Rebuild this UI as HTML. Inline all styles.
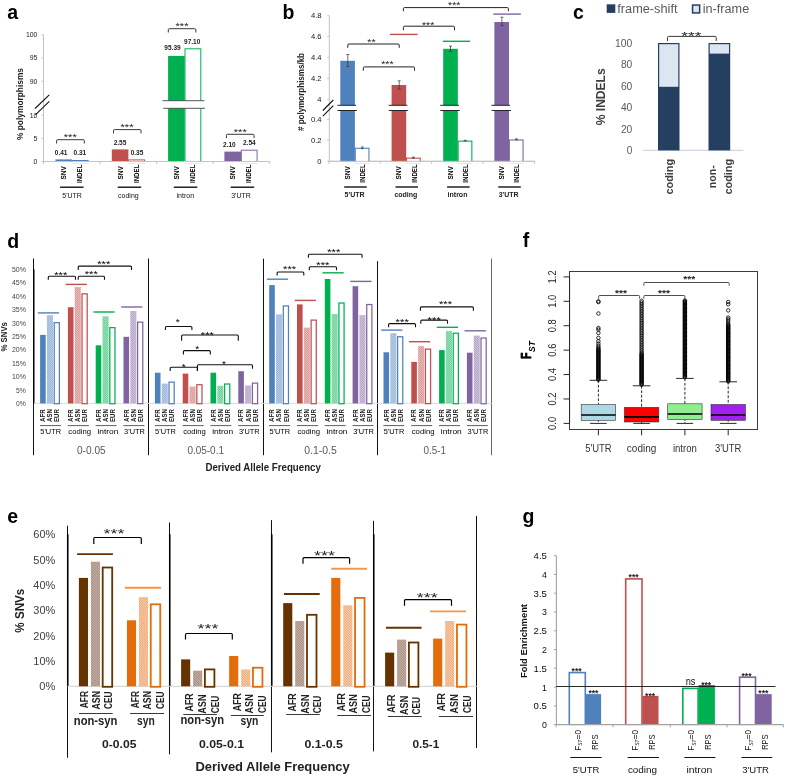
<!DOCTYPE html>
<html><head><meta charset="utf-8"><title>Figure</title>
<style>html,body{margin:0;padding:0;background:#fff}svg{display:block}</style></head>
<body>
<svg width="785" height="776" viewBox="0 0 785 776" font-family='"Liberation Sans", sans-serif'>
<defs>
<pattern id="hb" width="1.63" height="1.63" patternUnits="userSpaceOnUse" patternTransform="rotate(-45)"><rect width="1.63" height="1.63" fill="#c5d5e9"/><rect width="0.8" height="1.63" fill="#8eaed5"/></pattern>
<pattern id="hr" width="1.63" height="1.63" patternUnits="userSpaceOnUse" patternTransform="rotate(-45)"><rect width="1.63" height="1.63" fill="#eac5c4"/><rect width="0.8" height="1.63" fill="#d78f8d"/></pattern>
<pattern id="hg" width="1.63" height="1.63" patternUnits="userSpaceOnUse" patternTransform="rotate(-45)"><rect width="1.63" height="1.63" fill="#abe5c5"/><rect width="0.8" height="1.63" fill="#5ccc8f"/></pattern>
<pattern id="hp" width="1.63" height="1.63" patternUnits="userSpaceOnUse" patternTransform="rotate(-45)"><rect width="1.63" height="1.63" fill="#d5cce0"/><rect width="0.8" height="1.63" fill="#ae9cc3"/></pattern>
<pattern id="hbr" width="1.77" height="1.77" patternUnits="userSpaceOnUse" patternTransform="rotate(-45)"><rect width="1.77" height="1.77" fill="#cbb8ad"/><rect width="0.88" height="1.77" fill="#a3877a"/></pattern>
<pattern id="hor" width="1.77" height="1.77" patternUnits="userSpaceOnUse" patternTransform="rotate(-45)"><rect width="1.77" height="1.77" fill="#f9d6ba"/><rect width="0.88" height="1.77" fill="#efa168"/></pattern>
</defs>
<rect width="785" height="776" fill="#fff"/>
<text x="7.30" y="19.20" font-size="19.5" text-anchor="start" fill="#000" font-weight="bold">a</text>
<text x="282.60" y="19.20" font-size="19.5" text-anchor="start" fill="#000" font-weight="bold">b</text>
<text x="573.00" y="18.70" font-size="19.5" text-anchor="start" fill="#000" font-weight="bold">c</text>
<text x="7.30" y="247.60" font-size="19.5" text-anchor="start" fill="#000" font-weight="bold">d</text>
<text x="522.80" y="247.00" font-size="19.5" text-anchor="start" fill="#000" font-weight="bold">f</text>
<text x="7.30" y="522.60" font-size="19.5" text-anchor="start" fill="#000" font-weight="bold">e</text>
<text x="522.60" y="522.80" font-size="19.5" text-anchor="start" fill="#000" font-weight="bold">g</text>
<line x1="43.50" y1="34.60" x2="43.50" y2="161.50" stroke="#c4c4c4" stroke-width="1" />
<line x1="43.50" y1="161.50" x2="270.00" y2="161.50" stroke="#c4c4c4" stroke-width="1" />
<line x1="41.50" y1="34.80" x2="43.50" y2="34.80" stroke="#c4c4c4" stroke-width="1" />
<text x="37.40" y="37.28" font-size="6.9" text-anchor="end" fill="#222">100</text>
<line x1="41.50" y1="58.00" x2="43.50" y2="58.00" stroke="#c4c4c4" stroke-width="1" />
<text x="37.40" y="60.48" font-size="6.9" text-anchor="end" fill="#222">95</text>
<line x1="41.50" y1="81.20" x2="43.50" y2="81.20" stroke="#c4c4c4" stroke-width="1" />
<text x="37.40" y="83.68" font-size="6.9" text-anchor="end" fill="#222">90</text>
<line x1="41.50" y1="115.20" x2="43.50" y2="115.20" stroke="#c4c4c4" stroke-width="1" />
<text x="37.40" y="117.68" font-size="6.9" text-anchor="end" fill="#222">10</text>
<line x1="41.50" y1="138.40" x2="43.50" y2="138.40" stroke="#c4c4c4" stroke-width="1" />
<text x="37.40" y="140.88" font-size="6.9" text-anchor="end" fill="#222">5</text>
<line x1="41.50" y1="161.50" x2="43.50" y2="161.50" stroke="#c4c4c4" stroke-width="1" />
<text x="37.40" y="163.98" font-size="6.9" text-anchor="end" fill="#222">0</text>
<line x1="43.60" y1="161.50" x2="43.60" y2="164.00" stroke="#c4c4c4" stroke-width="1" />
<line x1="100.20" y1="161.50" x2="100.20" y2="164.00" stroke="#c4c4c4" stroke-width="1" />
<line x1="156.70" y1="161.50" x2="156.70" y2="164.00" stroke="#c4c4c4" stroke-width="1" />
<line x1="213.20" y1="161.50" x2="213.20" y2="164.00" stroke="#c4c4c4" stroke-width="1" />
<line x1="269.80" y1="161.50" x2="269.80" y2="164.00" stroke="#c4c4c4" stroke-width="1" />
<line x1="35.00" y1="108.50" x2="49.30" y2="94.80" stroke="#111" stroke-width="1.1" />
<line x1="35.40" y1="114.80" x2="49.30" y2="101.30" stroke="#111" stroke-width="1.1" />
<rect x="37" y="103" width="4" height="0" fill="#fff"/>
<text x="23.44" y="104.00" font-size="8.8" text-anchor="middle" fill="#222" font-weight="bold" transform="rotate(-90 23.44 104.00)" textLength="72.0" lengthAdjust="spacingAndGlyphs">% polymorphisms</text>
<rect x="55.50" y="159.40" width="16.60" height="2.10" fill="#4f81bd"/>
<rect x="72.40" y="160.50" width="15.80" height="2.50" fill="#fff" stroke="#4f81bd" stroke-width="1.0"/>
<text x="61.10" y="155.24" font-size="6.5" text-anchor="middle" fill="#222" font-weight="bold">0.41</text>
<text x="79.90" y="155.34" font-size="6.5" text-anchor="middle" fill="#222" font-weight="bold">0.31</text>
<path d="M56.60 143.50 V140.70 Q56.60 139.70 57.60 139.70 H83.30 Q84.30 139.70 84.30 140.70 V143.50" fill="none" stroke="#222" stroke-width="0.9"/>
<text x="70.30" y="140.44" font-size="8.5" text-anchor="middle" fill="#222" textLength="13.2" lengthAdjust="spacingAndGlyphs">***</text>
<text x="66.41" y="166.10" font-size="6.7" text-anchor="end" fill="#000" font-weight="bold" transform="rotate(-90 66.41 166.10)" textLength="13.4" lengthAdjust="spacingAndGlyphs">SNV</text>
<text x="82.41" y="164.60" font-size="6.7" text-anchor="end" fill="#000" font-weight="bold" transform="rotate(-90 82.41 164.60)" textLength="18.4" lengthAdjust="spacingAndGlyphs">INDEL</text>
<line x1="60.10" y1="187.20" x2="83.60" y2="187.20" stroke="#000" stroke-width="1.3" />
<text x="72.10" y="197.71" font-size="7.0" text-anchor="middle" fill="#111">5'UTR</text>
<rect x="111.80" y="149.40" width="16.60" height="12.10" fill="#c0504d"/>
<rect x="128.70" y="159.90" width="15.80" height="3.10" fill="#fff" stroke="#c0504d" stroke-width="1.0"/>
<text x="120.00" y="145.24" font-size="6.5" text-anchor="middle" fill="#222" font-weight="bold">2.55</text>
<text x="137.00" y="155.24" font-size="6.5" text-anchor="middle" fill="#222" font-weight="bold">0.35</text>
<path d="M113.50 133.40 V130.60 Q113.50 129.60 114.50 129.60 H140.00 Q141.00 129.60 141.00 130.60 V133.40" fill="none" stroke="#222" stroke-width="0.9"/>
<text x="127.00" y="130.25" font-size="8.5" text-anchor="middle" fill="#222" textLength="13.2" lengthAdjust="spacingAndGlyphs">***</text>
<text x="122.71" y="166.10" font-size="6.7" text-anchor="end" fill="#000" font-weight="bold" transform="rotate(-90 122.71 166.10)" textLength="13.4" lengthAdjust="spacingAndGlyphs">SNV</text>
<text x="138.71" y="164.60" font-size="6.7" text-anchor="end" fill="#000" font-weight="bold" transform="rotate(-90 138.71 164.60)" textLength="18.4" lengthAdjust="spacingAndGlyphs">INDEL</text>
<line x1="117.70" y1="187.20" x2="141.20" y2="187.20" stroke="#000" stroke-width="1.3" />
<text x="128.40" y="197.71" font-size="7.0" text-anchor="middle" fill="#111">coding</text>
<rect x="168.10" y="55.90" width="16.60" height="105.60" fill="#00b050"/>
<rect x="185.00" y="48.80" width="15.80" height="114.20" fill="#fff" stroke="#00b050" stroke-width="1.0"/>
<text x="172.50" y="50.24" font-size="6.5" text-anchor="middle" fill="#222" font-weight="bold">95.39</text>
<text x="192.20" y="43.54" font-size="6.5" text-anchor="middle" fill="#222" font-weight="bold">97.10</text>
<path d="M168.30 32.50 V29.70 Q168.30 28.70 169.30 28.70 H194.80 Q195.80 28.70 195.80 29.70 V32.50" fill="none" stroke="#222" stroke-width="0.9"/>
<text x="182.00" y="29.34" font-size="8.5" text-anchor="middle" fill="#222" textLength="13.2" lengthAdjust="spacingAndGlyphs">***</text>
<text x="179.01" y="166.10" font-size="6.7" text-anchor="end" fill="#000" font-weight="bold" transform="rotate(-90 179.01 166.10)" textLength="13.4" lengthAdjust="spacingAndGlyphs">SNV</text>
<text x="195.01" y="164.60" font-size="6.7" text-anchor="end" fill="#000" font-weight="bold" transform="rotate(-90 195.01 164.60)" textLength="18.4" lengthAdjust="spacingAndGlyphs">INDEL</text>
<line x1="173.80" y1="187.20" x2="197.30" y2="187.20" stroke="#000" stroke-width="1.3" />
<text x="185.30" y="197.71" font-size="7.0" text-anchor="middle" fill="#111">intron</text>
<rect x="224.40" y="151.60" width="16.60" height="9.90" fill="#8064a2"/>
<rect x="241.30" y="150.20" width="15.80" height="12.80" fill="#fff" stroke="#8064a2" stroke-width="1.0"/>
<text x="229.40" y="147.44" font-size="6.5" text-anchor="middle" fill="#222" font-weight="bold">2.10</text>
<text x="249.30" y="145.14" font-size="6.5" text-anchor="middle" fill="#222" font-weight="bold">2.54</text>
<path d="M226.40 138.10 V135.30 Q226.40 134.30 227.40 134.30 H253.10 Q254.10 134.30 254.10 135.30 V138.10" fill="none" stroke="#222" stroke-width="0.9"/>
<text x="240.30" y="134.94" font-size="8.5" text-anchor="middle" fill="#222" textLength="13.2" lengthAdjust="spacingAndGlyphs">***</text>
<text x="235.31" y="166.10" font-size="6.7" text-anchor="end" fill="#000" font-weight="bold" transform="rotate(-90 235.31 166.10)" textLength="13.4" lengthAdjust="spacingAndGlyphs">SNV</text>
<text x="251.31" y="164.60" font-size="6.7" text-anchor="end" fill="#000" font-weight="bold" transform="rotate(-90 251.31 164.60)" textLength="18.4" lengthAdjust="spacingAndGlyphs">INDEL</text>
<line x1="230.70" y1="187.20" x2="254.20" y2="187.20" stroke="#000" stroke-width="1.3" />
<text x="241.00" y="197.71" font-size="7.0" text-anchor="middle" fill="#111">3'UTR</text>
<rect x="44.20" y="162.00" width="224.80" height="1.70" fill="#fff"/>
<line x1="43.50" y1="161.50" x2="270.00" y2="161.50" stroke="#c4c4c4" stroke-width="1" />
<line x1="100.20" y1="161.50" x2="100.20" y2="164.00" stroke="#c4c4c4" stroke-width="1" />
<line x1="156.70" y1="161.50" x2="156.70" y2="164.00" stroke="#c4c4c4" stroke-width="1" />
<line x1="213.20" y1="161.50" x2="213.20" y2="164.00" stroke="#c4c4c4" stroke-width="1" />
<rect x="162.50" y="100.70" width="42.30" height="7.60" fill="#fff"/>
<line x1="162.50" y1="100.70" x2="204.40" y2="100.70" stroke="#444" stroke-width="0.9" />
<line x1="163.20" y1="108.30" x2="205.00" y2="108.30" stroke="#444" stroke-width="0.9" />
<line x1="329.30" y1="15.70" x2="329.30" y2="161.30" stroke="#c4c4c4" stroke-width="1" />
<line x1="329.30" y1="161.30" x2="534.80" y2="161.30" stroke="#c4c4c4" stroke-width="1" />
<line x1="327.30" y1="15.70" x2="329.30" y2="15.70" stroke="#c4c4c4" stroke-width="1" />
<text x="321.60" y="18.44" font-size="7.6" text-anchor="end" fill="#151515">4.8</text>
<line x1="327.30" y1="36.50" x2="329.30" y2="36.50" stroke="#c4c4c4" stroke-width="1" />
<text x="321.60" y="39.24" font-size="7.6" text-anchor="end" fill="#151515">4.6</text>
<line x1="327.30" y1="57.40" x2="329.30" y2="57.40" stroke="#c4c4c4" stroke-width="1" />
<text x="321.60" y="60.14" font-size="7.6" text-anchor="end" fill="#151515">4.4</text>
<line x1="327.30" y1="78.30" x2="329.30" y2="78.30" stroke="#c4c4c4" stroke-width="1" />
<text x="321.60" y="81.04" font-size="7.6" text-anchor="end" fill="#151515">4.2</text>
<line x1="327.30" y1="99.30" x2="329.30" y2="99.30" stroke="#c4c4c4" stroke-width="1" />
<text x="321.60" y="102.04" font-size="7.6" text-anchor="end" fill="#151515">4</text>
<line x1="327.30" y1="119.60" x2="329.30" y2="119.60" stroke="#c4c4c4" stroke-width="1" />
<text x="321.60" y="122.34" font-size="7.6" text-anchor="end" fill="#151515">0.4</text>
<line x1="327.30" y1="140.40" x2="329.30" y2="140.40" stroke="#c4c4c4" stroke-width="1" />
<text x="321.60" y="143.14" font-size="7.6" text-anchor="end" fill="#151515">0.2</text>
<line x1="327.30" y1="161.30" x2="329.30" y2="161.30" stroke="#c4c4c4" stroke-width="1" />
<text x="321.60" y="164.04" font-size="7.6" text-anchor="end" fill="#151515">0</text>
<line x1="328.90" y1="161.30" x2="328.90" y2="163.80" stroke="#c4c4c4" stroke-width="1" />
<line x1="380.40" y1="161.30" x2="380.40" y2="163.80" stroke="#c4c4c4" stroke-width="1" />
<line x1="431.60" y1="161.30" x2="431.60" y2="163.80" stroke="#c4c4c4" stroke-width="1" />
<line x1="483.10" y1="161.30" x2="483.10" y2="163.80" stroke="#c4c4c4" stroke-width="1" />
<line x1="534.60" y1="161.30" x2="534.60" y2="163.80" stroke="#c4c4c4" stroke-width="1" />
<line x1="322.80" y1="110.50" x2="333.30" y2="100.00" stroke="#111" stroke-width="1.1" />
<line x1="322.80" y1="116.20" x2="333.30" y2="105.70" stroke="#111" stroke-width="1.1" />
<text x="303.94" y="92.00" font-size="8.8" text-anchor="middle" fill="#222" font-weight="bold" transform="rotate(-90 303.94 92.00)" textLength="78.0" lengthAdjust="spacingAndGlyphs"># polymorphisms/kb</text>
<rect x="340.30" y="60.80" width="14.60" height="100.50" fill="#4f81bd"/>
<rect x="355.25" y="148.25" width="13.70" height="14.55" fill="#fff" stroke="#4f81bd" stroke-width="1.1"/>
<line x1="347.80" y1="54.50" x2="347.80" y2="66.50" stroke="#333" stroke-width="0.7" />
<line x1="346.30" y1="54.50" x2="349.30" y2="54.50" stroke="#333" stroke-width="0.7" />
<line x1="346.30" y1="66.50" x2="349.30" y2="66.50" stroke="#333" stroke-width="0.7" />
<line x1="362.30" y1="146.90" x2="362.30" y2="148.70" stroke="#333" stroke-width="0.7" />
<line x1="360.90" y1="146.90" x2="363.70" y2="146.90" stroke="#333" stroke-width="0.6" />
<line x1="360.90" y1="148.70" x2="363.70" y2="148.70" stroke="#333" stroke-width="0.6" />
<rect x="337.30" y="105.30" width="20.60" height="5.20" fill="#fff"/>
<line x1="337.30" y1="105.30" x2="356.10" y2="105.30" stroke="#111" stroke-width="0.9" />
<line x1="337.50" y1="110.50" x2="356.90" y2="110.50" stroke="#111" stroke-width="0.9" />
<text x="350.11" y="166.10" font-size="6.7" text-anchor="end" fill="#000" font-weight="bold" transform="rotate(-90 350.11 166.10)" textLength="13.4" lengthAdjust="spacingAndGlyphs">SNV</text>
<text x="365.21" y="164.30" font-size="6.7" text-anchor="end" fill="#000" font-weight="bold" transform="rotate(-90 365.21 164.30)" textLength="18.4" lengthAdjust="spacingAndGlyphs">INDEL</text>
<line x1="344.20" y1="187.00" x2="366.70" y2="187.00" stroke="#000" stroke-width="1.3" />
<text x="354.60" y="196.91" font-size="7.0" text-anchor="middle" fill="#222" font-weight="bold">5'UTR</text>
<rect x="391.60" y="85.00" width="14.60" height="76.30" fill="#c0504d"/>
<rect x="406.55" y="158.15" width="13.70" height="4.65" fill="#fff" stroke="#c0504d" stroke-width="1.1"/>
<line x1="399.20" y1="80.80" x2="399.20" y2="88.90" stroke="#333" stroke-width="0.7" />
<line x1="397.70" y1="80.80" x2="400.70" y2="80.80" stroke="#333" stroke-width="0.7" />
<line x1="397.70" y1="88.90" x2="400.70" y2="88.90" stroke="#333" stroke-width="0.7" />
<line x1="413.40" y1="157.00" x2="413.40" y2="158.20" stroke="#333" stroke-width="0.7" />
<line x1="412.00" y1="157.00" x2="414.80" y2="157.00" stroke="#333" stroke-width="0.6" />
<line x1="412.00" y1="158.20" x2="414.80" y2="158.20" stroke="#333" stroke-width="0.6" />
<rect x="388.60" y="105.30" width="20.60" height="5.20" fill="#fff"/>
<line x1="388.60" y1="105.30" x2="407.40" y2="105.30" stroke="#111" stroke-width="0.9" />
<line x1="388.80" y1="110.50" x2="408.20" y2="110.50" stroke="#111" stroke-width="0.9" />
<text x="401.41" y="166.10" font-size="6.7" text-anchor="end" fill="#000" font-weight="bold" transform="rotate(-90 401.41 166.10)" textLength="13.4" lengthAdjust="spacingAndGlyphs">SNV</text>
<text x="416.51" y="164.30" font-size="6.7" text-anchor="end" fill="#000" font-weight="bold" transform="rotate(-90 416.51 164.30)" textLength="18.4" lengthAdjust="spacingAndGlyphs">INDEL</text>
<line x1="395.50" y1="187.00" x2="418.00" y2="187.00" stroke="#000" stroke-width="1.3" />
<text x="405.90" y="196.91" font-size="7.0" text-anchor="middle" fill="#222" font-weight="bold">coding</text>
<rect x="443.20" y="48.80" width="14.60" height="112.50" fill="#00b050"/>
<rect x="458.15" y="141.15" width="13.70" height="21.65" fill="#fff" stroke="#00b050" stroke-width="1.1"/>
<line x1="450.50" y1="46.20" x2="450.50" y2="51.20" stroke="#333" stroke-width="0.7" />
<line x1="449.00" y1="46.20" x2="452.00" y2="46.20" stroke="#333" stroke-width="0.7" />
<line x1="449.00" y1="51.20" x2="452.00" y2="51.20" stroke="#333" stroke-width="0.7" />
<line x1="465.20" y1="140.20" x2="465.20" y2="141.00" stroke="#333" stroke-width="0.7" />
<line x1="463.80" y1="140.20" x2="466.60" y2="140.20" stroke="#333" stroke-width="0.6" />
<line x1="463.80" y1="141.00" x2="466.60" y2="141.00" stroke="#333" stroke-width="0.6" />
<rect x="440.20" y="105.30" width="20.60" height="5.20" fill="#fff"/>
<line x1="440.20" y1="105.30" x2="459.00" y2="105.30" stroke="#111" stroke-width="0.9" />
<line x1="440.40" y1="110.50" x2="459.80" y2="110.50" stroke="#111" stroke-width="0.9" />
<text x="453.01" y="166.10" font-size="6.7" text-anchor="end" fill="#000" font-weight="bold" transform="rotate(-90 453.01 166.10)" textLength="13.4" lengthAdjust="spacingAndGlyphs">SNV</text>
<text x="468.11" y="164.30" font-size="6.7" text-anchor="end" fill="#000" font-weight="bold" transform="rotate(-90 468.11 164.30)" textLength="18.4" lengthAdjust="spacingAndGlyphs">INDEL</text>
<line x1="447.10" y1="187.00" x2="469.60" y2="187.00" stroke="#000" stroke-width="1.3" />
<text x="457.50" y="196.91" font-size="7.0" text-anchor="middle" fill="#222" font-weight="bold">intron</text>
<rect x="494.40" y="22.00" width="14.60" height="139.30" fill="#8064a2"/>
<rect x="509.35" y="139.95" width="13.70" height="22.85" fill="#fff" stroke="#8064a2" stroke-width="1.1"/>
<line x1="501.90" y1="17.20" x2="501.90" y2="25.60" stroke="#333" stroke-width="0.7" />
<line x1="500.40" y1="17.20" x2="503.40" y2="17.20" stroke="#333" stroke-width="0.7" />
<line x1="500.40" y1="25.60" x2="503.40" y2="25.60" stroke="#333" stroke-width="0.7" />
<line x1="516.40" y1="138.80" x2="516.40" y2="140.00" stroke="#333" stroke-width="0.7" />
<line x1="515.00" y1="138.80" x2="517.80" y2="138.80" stroke="#333" stroke-width="0.6" />
<line x1="515.00" y1="140.00" x2="517.80" y2="140.00" stroke="#333" stroke-width="0.6" />
<rect x="491.40" y="105.30" width="20.60" height="5.20" fill="#fff"/>
<line x1="491.40" y1="105.30" x2="510.20" y2="105.30" stroke="#111" stroke-width="0.9" />
<line x1="491.60" y1="110.50" x2="511.00" y2="110.50" stroke="#111" stroke-width="0.9" />
<text x="504.21" y="166.10" font-size="6.7" text-anchor="end" fill="#000" font-weight="bold" transform="rotate(-90 504.21 166.10)" textLength="13.4" lengthAdjust="spacingAndGlyphs">SNV</text>
<text x="519.31" y="164.30" font-size="6.7" text-anchor="end" fill="#000" font-weight="bold" transform="rotate(-90 519.31 164.30)" textLength="18.4" lengthAdjust="spacingAndGlyphs">INDEL</text>
<line x1="498.30" y1="187.00" x2="520.80" y2="187.00" stroke="#000" stroke-width="1.3" />
<text x="508.70" y="196.91" font-size="7.0" text-anchor="middle" fill="#222" font-weight="bold">3'UTR</text>
<rect x="330.00" y="161.80" width="204.00" height="1.70" fill="#fff"/>
<line x1="329.30" y1="161.30" x2="534.80" y2="161.30" stroke="#c4c4c4" stroke-width="1" />
<line x1="380.40" y1="161.30" x2="380.40" y2="163.80" stroke="#c4c4c4" stroke-width="1" />
<line x1="431.60" y1="161.30" x2="431.60" y2="163.80" stroke="#c4c4c4" stroke-width="1" />
<line x1="483.10" y1="161.30" x2="483.10" y2="163.80" stroke="#c4c4c4" stroke-width="1" />
<line x1="390.00" y1="34.40" x2="417.60" y2="34.40" stroke="#c0504d" stroke-width="1.4" />
<line x1="442.90" y1="41.30" x2="470.20" y2="41.30" stroke="#00b050" stroke-width="1.4" />
<line x1="493.30" y1="14.10" x2="520.80" y2="14.10" stroke="#8064a2" stroke-width="1.4" />
<path d="M347.80 47.80 V45.00 Q347.80 44.00 348.80 44.00 H398.20 Q399.20 44.00 399.20 45.00 V47.80" fill="none" stroke="#222" stroke-width="1.0"/>
<text x="371.50" y="45.34" font-size="8.5" text-anchor="middle" fill="#222" textLength="8.3" lengthAdjust="spacingAndGlyphs">**</text>
<path d="M363.30 70.70 V67.90 Q363.30 66.90 364.30 66.90 H413.50 Q414.50 66.90 414.50 67.90 V70.70" fill="none" stroke="#222" stroke-width="1.0"/>
<text x="387.40" y="66.75" font-size="8.5" text-anchor="middle" fill="#222" textLength="12.5" lengthAdjust="spacingAndGlyphs">***</text>
<path d="M403.40 30.20 V27.20 Q403.40 26.20 404.40 26.20 H453.50 Q454.50 26.20 454.50 27.20 V30.20" fill="none" stroke="#222" stroke-width="1.0"/>
<text x="428.20" y="28.14" font-size="8.5" text-anchor="middle" fill="#222" textLength="12.5" lengthAdjust="spacingAndGlyphs">***</text>
<path d="M403.40 11.20 V8.60 Q403.40 7.60 404.40 7.60 H507.40 Q508.40 7.60 508.40 8.60 V11.20" fill="none" stroke="#222" stroke-width="1.0"/>
<text x="454.30" y="8.04" font-size="8.5" text-anchor="middle" fill="#222" textLength="12.5" lengthAdjust="spacingAndGlyphs">***</text>
<rect x="606.70" y="4.30" width="8.60" height="8.60" fill="#243f60"/>
<text x="617.30" y="12.60" font-size="12" text-anchor="start" fill="#595959" textLength="60.2" lengthAdjust="spacingAndGlyphs">frame-shift</text>
<rect x="692.55" y="5.05" width="7.10" height="7.85" fill="#dce6f2" stroke="#243f60" stroke-width="1.5"/>
<text x="702.70" y="12.60" font-size="12" text-anchor="start" fill="#595959" textLength="46.5" lengthAdjust="spacingAndGlyphs">in-frame</text>
<line x1="643.10" y1="150.40" x2="743.40" y2="150.40" stroke="#d3d8e6" stroke-width="1.2" />
<text x="632.30" y="46.60" font-size="10" text-anchor="end" fill="#595959" textLength="17.2" lengthAdjust="spacingAndGlyphs">100</text>
<text x="632.30" y="68.10" font-size="10" text-anchor="end" fill="#595959" textLength="11.4" lengthAdjust="spacingAndGlyphs">80</text>
<text x="632.30" y="89.60" font-size="10" text-anchor="end" fill="#595959" textLength="11.4" lengthAdjust="spacingAndGlyphs">60</text>
<text x="632.30" y="111.10" font-size="10" text-anchor="end" fill="#595959" textLength="11.4" lengthAdjust="spacingAndGlyphs">40</text>
<text x="632.30" y="132.50" font-size="10" text-anchor="end" fill="#595959" textLength="11.4" lengthAdjust="spacingAndGlyphs">20</text>
<text x="632.30" y="154.00" font-size="10" text-anchor="end" fill="#595959">0</text>
<text x="605.35" y="96.80" font-size="12.5" text-anchor="middle" fill="#404040" font-weight="bold" transform="rotate(-90 605.35 96.80)" textLength="57.0" lengthAdjust="spacingAndGlyphs">% INDELs</text>
<rect x="658.00" y="43.00" width="21.50" height="107.40" fill="#243f60"/>
<rect x="659.20" y="44.20" width="19.10" height="42.60" fill="#dce6f2"/>
<rect x="708.50" y="43.00" width="21.70" height="107.40" fill="#243f60"/>
<rect x="709.70" y="44.20" width="19.30" height="9.40" fill="#dce6f2"/>
<path d="M667.50 41.00 V37.40 Q667.50 36.40 668.50 36.40 H715.20 Q716.20 36.40 716.20 37.40 V41.00" fill="none" stroke="#222" stroke-width="0.9"/>
<text x="691.30" y="39.87" font-size="11" text-anchor="middle" fill="#222" textLength="20.0" lengthAdjust="spacingAndGlyphs">***</text>
<text x="673.40" y="158.80" font-size="11.5" text-anchor="end" fill="#404040" font-weight="bold" transform="rotate(-90 673.40 158.80)" textLength="35.8" lengthAdjust="spacingAndGlyphs">coding</text>
<text x="715.90" y="165.30" font-size="11.5" text-anchor="end" fill="#404040" font-weight="bold" transform="rotate(-90 715.90 165.30)" textLength="23.0" lengthAdjust="spacingAndGlyphs">non-</text>
<text x="732.21" y="158.80" font-size="11.5" text-anchor="end" fill="#404040" font-weight="bold" transform="rotate(-90 732.21 158.80)" textLength="35.8" lengthAdjust="spacingAndGlyphs">coding</text>
<line x1="33.50" y1="258.50" x2="33.50" y2="455.20" stroke="#111" stroke-width="1.0" />
<line x1="148.50" y1="258.50" x2="148.50" y2="455.20" stroke="#111" stroke-width="1.0" />
<line x1="263.50" y1="258.60" x2="263.50" y2="455.20" stroke="#111" stroke-width="1.0" />
<line x1="377.50" y1="261.20" x2="377.50" y2="455.20" stroke="#111" stroke-width="1.0" />
<line x1="491.50" y1="258.50" x2="491.50" y2="455.20" stroke="#666" stroke-width="1.0" />
<line x1="33.75" y1="269.30" x2="33.75" y2="403.40" stroke="#000" stroke-width="1.5" />
<line x1="34.00" y1="403.40" x2="491.70" y2="403.40" stroke="#d9dbe6" stroke-width="1.0" />
<text x="25.90" y="406.06" font-size="7.4" text-anchor="end" fill="#444" textLength="9.8" lengthAdjust="spacingAndGlyphs">0%</text>
<text x="25.90" y="392.66" font-size="7.4" text-anchor="end" fill="#444" textLength="9.8" lengthAdjust="spacingAndGlyphs">5%</text>
<text x="25.90" y="379.26" font-size="7.4" text-anchor="end" fill="#444" textLength="14.0" lengthAdjust="spacingAndGlyphs">10%</text>
<text x="25.90" y="365.86" font-size="7.4" text-anchor="end" fill="#444" textLength="14.0" lengthAdjust="spacingAndGlyphs">15%</text>
<text x="25.90" y="352.46" font-size="7.4" text-anchor="end" fill="#444" textLength="14.0" lengthAdjust="spacingAndGlyphs">20%</text>
<text x="25.90" y="339.06" font-size="7.4" text-anchor="end" fill="#444" textLength="14.0" lengthAdjust="spacingAndGlyphs">25%</text>
<text x="25.90" y="325.66" font-size="7.4" text-anchor="end" fill="#444" textLength="14.0" lengthAdjust="spacingAndGlyphs">30%</text>
<text x="25.90" y="312.26" font-size="7.4" text-anchor="end" fill="#444" textLength="14.0" lengthAdjust="spacingAndGlyphs">35%</text>
<text x="25.90" y="298.86" font-size="7.4" text-anchor="end" fill="#444" textLength="14.0" lengthAdjust="spacingAndGlyphs">40%</text>
<text x="25.90" y="285.46" font-size="7.4" text-anchor="end" fill="#444" textLength="14.0" lengthAdjust="spacingAndGlyphs">45%</text>
<text x="25.90" y="272.06" font-size="7.4" text-anchor="end" fill="#444" textLength="14.0" lengthAdjust="spacingAndGlyphs">50%</text>
<text x="7.24" y="336.80" font-size="8.8" text-anchor="middle" fill="#222" font-weight="bold" transform="rotate(-90 7.24 336.80)" textLength="29.5" lengthAdjust="spacingAndGlyphs">% SNVs</text>
<rect x="40.10" y="334.90" width="5.60" height="68.50" fill="#4f81bd"/>
<rect x="46.90" y="315.20" width="6.10" height="88.20" fill="url(#hb)"/>
<rect x="54.23" y="322.73" width="5.15" height="80.97" fill="#fff" stroke="#4f81bd" stroke-width="1.25"/>
<line x1="37.80" y1="312.90" x2="59.00" y2="312.90" stroke="#4f81bd" stroke-width="1.4" />
<text x="45.27" y="409.20" font-size="6.3" text-anchor="end" fill="#222" font-weight="bold" transform="rotate(-90 45.27 409.20)" textLength="12.7" lengthAdjust="spacingAndGlyphs">AFR</text>
<text x="52.37" y="409.20" font-size="6.3" text-anchor="end" fill="#222" font-weight="bold" transform="rotate(-90 52.37 409.20)" textLength="12.7" lengthAdjust="spacingAndGlyphs">ASN</text>
<text x="59.47" y="409.20" font-size="6.3" text-anchor="end" fill="#222" font-weight="bold" transform="rotate(-90 59.47 409.20)" textLength="12.7" lengthAdjust="spacingAndGlyphs">EUR</text>
<line x1="40.00" y1="425.60" x2="61.00" y2="425.60" stroke="#333" stroke-width="0.8" />
<text x="50.70" y="434.41" font-size="7.8" text-anchor="middle" fill="#000" textLength="20.8" lengthAdjust="spacingAndGlyphs">5'UTR</text>
<rect x="67.90" y="307.20" width="5.60" height="96.20" fill="#c0504d"/>
<rect x="74.70" y="287.10" width="6.10" height="116.30" fill="url(#hr)"/>
<rect x="82.03" y="293.82" width="5.15" height="109.88" fill="#fff" stroke="#c0504d" stroke-width="1.25"/>
<line x1="65.60" y1="284.40" x2="86.80" y2="284.40" stroke="#c0504d" stroke-width="1.4" />
<text x="73.07" y="409.20" font-size="6.3" text-anchor="end" fill="#222" font-weight="bold" transform="rotate(-90 73.07 409.20)" textLength="12.7" lengthAdjust="spacingAndGlyphs">AFR</text>
<text x="80.17" y="409.20" font-size="6.3" text-anchor="end" fill="#222" font-weight="bold" transform="rotate(-90 80.17 409.20)" textLength="12.7" lengthAdjust="spacingAndGlyphs">ASN</text>
<text x="87.27" y="409.20" font-size="6.3" text-anchor="end" fill="#222" font-weight="bold" transform="rotate(-90 87.27 409.20)" textLength="12.7" lengthAdjust="spacingAndGlyphs">EUR</text>
<line x1="67.80" y1="425.60" x2="88.80" y2="425.60" stroke="#333" stroke-width="0.8" />
<text x="79.70" y="434.41" font-size="7.8" text-anchor="middle" fill="#000" textLength="22.7" lengthAdjust="spacingAndGlyphs">coding</text>
<rect x="95.70" y="345.30" width="5.60" height="58.10" fill="#00b050"/>
<rect x="102.50" y="316.30" width="6.10" height="87.10" fill="url(#hg)"/>
<rect x="109.83" y="327.62" width="5.15" height="76.07" fill="#fff" stroke="#00b050" stroke-width="1.25"/>
<line x1="93.40" y1="312.00" x2="114.60" y2="312.00" stroke="#00b050" stroke-width="1.4" />
<text x="100.87" y="409.20" font-size="6.3" text-anchor="end" fill="#222" font-weight="bold" transform="rotate(-90 100.87 409.20)" textLength="12.7" lengthAdjust="spacingAndGlyphs">AFR</text>
<text x="107.97" y="409.20" font-size="6.3" text-anchor="end" fill="#222" font-weight="bold" transform="rotate(-90 107.97 409.20)" textLength="12.7" lengthAdjust="spacingAndGlyphs">ASN</text>
<text x="115.07" y="409.20" font-size="6.3" text-anchor="end" fill="#222" font-weight="bold" transform="rotate(-90 115.07 409.20)" textLength="12.7" lengthAdjust="spacingAndGlyphs">EUR</text>
<line x1="95.60" y1="425.60" x2="116.60" y2="425.60" stroke="#333" stroke-width="0.8" />
<text x="107.90" y="434.41" font-size="7.8" text-anchor="middle" fill="#000" textLength="21.0" lengthAdjust="spacingAndGlyphs">intron</text>
<rect x="123.50" y="336.80" width="5.60" height="66.60" fill="#8064a2"/>
<rect x="130.30" y="311.00" width="6.10" height="92.40" fill="url(#hp)"/>
<rect x="137.62" y="322.12" width="5.15" height="81.57" fill="#fff" stroke="#8064a2" stroke-width="1.25"/>
<line x1="121.20" y1="307.00" x2="142.40" y2="307.00" stroke="#8064a2" stroke-width="1.4" />
<text x="128.67" y="409.20" font-size="6.3" text-anchor="end" fill="#222" font-weight="bold" transform="rotate(-90 128.67 409.20)" textLength="12.7" lengthAdjust="spacingAndGlyphs">AFR</text>
<text x="135.77" y="409.20" font-size="6.3" text-anchor="end" fill="#222" font-weight="bold" transform="rotate(-90 135.77 409.20)" textLength="12.7" lengthAdjust="spacingAndGlyphs">ASN</text>
<text x="142.87" y="409.20" font-size="6.3" text-anchor="end" fill="#222" font-weight="bold" transform="rotate(-90 142.87 409.20)" textLength="12.7" lengthAdjust="spacingAndGlyphs">EUR</text>
<line x1="123.40" y1="425.60" x2="144.40" y2="425.60" stroke="#333" stroke-width="0.8" />
<text x="134.50" y="434.41" font-size="7.8" text-anchor="middle" fill="#000" textLength="20.8" lengthAdjust="spacingAndGlyphs">3'UTR</text>
<text x="91.30" y="453.90" font-size="10" text-anchor="middle" fill="#595959" textLength="28.7" lengthAdjust="spacingAndGlyphs">0-0.05</text>
<rect x="154.90" y="372.70" width="5.60" height="30.70" fill="#4f81bd"/>
<rect x="161.70" y="383.60" width="6.10" height="19.80" fill="url(#hb)"/>
<rect x="169.03" y="382.12" width="5.15" height="21.57" fill="#fff" stroke="#4f81bd" stroke-width="1.25"/>
<text x="160.07" y="409.20" font-size="6.3" text-anchor="end" fill="#222" font-weight="bold" transform="rotate(-90 160.07 409.20)" textLength="12.7" lengthAdjust="spacingAndGlyphs">AFR</text>
<text x="167.17" y="409.20" font-size="6.3" text-anchor="end" fill="#222" font-weight="bold" transform="rotate(-90 167.17 409.20)" textLength="12.7" lengthAdjust="spacingAndGlyphs">ASN</text>
<text x="174.27" y="409.20" font-size="6.3" text-anchor="end" fill="#222" font-weight="bold" transform="rotate(-90 174.27 409.20)" textLength="12.7" lengthAdjust="spacingAndGlyphs">EUR</text>
<line x1="154.80" y1="425.60" x2="175.80" y2="425.60" stroke="#333" stroke-width="0.8" />
<text x="165.50" y="434.41" font-size="7.8" text-anchor="middle" fill="#000" textLength="20.8" lengthAdjust="spacingAndGlyphs">5'UTR</text>
<rect x="182.70" y="373.60" width="5.60" height="29.80" fill="#c0504d"/>
<rect x="189.50" y="386.50" width="6.10" height="16.90" fill="url(#hr)"/>
<rect x="196.83" y="384.73" width="5.15" height="18.97" fill="#fff" stroke="#c0504d" stroke-width="1.25"/>
<text x="187.87" y="409.20" font-size="6.3" text-anchor="end" fill="#222" font-weight="bold" transform="rotate(-90 187.87 409.20)" textLength="12.7" lengthAdjust="spacingAndGlyphs">AFR</text>
<text x="194.97" y="409.20" font-size="6.3" text-anchor="end" fill="#222" font-weight="bold" transform="rotate(-90 194.97 409.20)" textLength="12.7" lengthAdjust="spacingAndGlyphs">ASN</text>
<text x="202.07" y="409.20" font-size="6.3" text-anchor="end" fill="#222" font-weight="bold" transform="rotate(-90 202.07 409.20)" textLength="12.7" lengthAdjust="spacingAndGlyphs">EUR</text>
<line x1="182.60" y1="425.60" x2="203.60" y2="425.60" stroke="#333" stroke-width="0.8" />
<text x="194.50" y="434.41" font-size="7.8" text-anchor="middle" fill="#000" textLength="22.7" lengthAdjust="spacingAndGlyphs">coding</text>
<rect x="210.50" y="372.70" width="5.60" height="30.70" fill="#00b050"/>
<rect x="217.30" y="385.80" width="6.10" height="17.60" fill="url(#hg)"/>
<rect x="224.62" y="384.02" width="5.15" height="19.68" fill="#fff" stroke="#00b050" stroke-width="1.25"/>
<text x="215.67" y="409.20" font-size="6.3" text-anchor="end" fill="#222" font-weight="bold" transform="rotate(-90 215.67 409.20)" textLength="12.7" lengthAdjust="spacingAndGlyphs">AFR</text>
<text x="222.77" y="409.20" font-size="6.3" text-anchor="end" fill="#222" font-weight="bold" transform="rotate(-90 222.77 409.20)" textLength="12.7" lengthAdjust="spacingAndGlyphs">ASN</text>
<text x="229.87" y="409.20" font-size="6.3" text-anchor="end" fill="#222" font-weight="bold" transform="rotate(-90 229.87 409.20)" textLength="12.7" lengthAdjust="spacingAndGlyphs">EUR</text>
<line x1="210.40" y1="425.60" x2="231.40" y2="425.60" stroke="#333" stroke-width="0.8" />
<text x="222.70" y="434.41" font-size="7.8" text-anchor="middle" fill="#000" textLength="21.0" lengthAdjust="spacingAndGlyphs">intron</text>
<rect x="238.30" y="371.20" width="5.60" height="32.20" fill="#8064a2"/>
<rect x="245.10" y="385.40" width="6.10" height="18.00" fill="url(#hp)"/>
<rect x="252.43" y="383.12" width="5.15" height="20.57" fill="#fff" stroke="#8064a2" stroke-width="1.25"/>
<text x="243.47" y="409.20" font-size="6.3" text-anchor="end" fill="#222" font-weight="bold" transform="rotate(-90 243.47 409.20)" textLength="12.7" lengthAdjust="spacingAndGlyphs">AFR</text>
<text x="250.57" y="409.20" font-size="6.3" text-anchor="end" fill="#222" font-weight="bold" transform="rotate(-90 250.57 409.20)" textLength="12.7" lengthAdjust="spacingAndGlyphs">ASN</text>
<text x="257.67" y="409.20" font-size="6.3" text-anchor="end" fill="#222" font-weight="bold" transform="rotate(-90 257.67 409.20)" textLength="12.7" lengthAdjust="spacingAndGlyphs">EUR</text>
<line x1="238.20" y1="425.60" x2="259.20" y2="425.60" stroke="#333" stroke-width="0.8" />
<text x="249.30" y="434.41" font-size="7.8" text-anchor="middle" fill="#000" textLength="20.8" lengthAdjust="spacingAndGlyphs">3'UTR</text>
<text x="205.70" y="453.90" font-size="10" text-anchor="middle" fill="#595959" textLength="36.6" lengthAdjust="spacingAndGlyphs">0.05-0.1</text>
<rect x="269.20" y="285.10" width="5.60" height="118.30" fill="#4f81bd"/>
<rect x="276.00" y="314.40" width="6.10" height="89.00" fill="url(#hb)"/>
<rect x="283.32" y="305.93" width="5.15" height="97.77" fill="#fff" stroke="#4f81bd" stroke-width="1.25"/>
<line x1="266.90" y1="279.20" x2="288.10" y2="279.20" stroke="#4f81bd" stroke-width="1.4" />
<text x="274.37" y="409.20" font-size="6.3" text-anchor="end" fill="#222" font-weight="bold" transform="rotate(-90 274.37 409.20)" textLength="12.7" lengthAdjust="spacingAndGlyphs">AFR</text>
<text x="281.47" y="409.20" font-size="6.3" text-anchor="end" fill="#222" font-weight="bold" transform="rotate(-90 281.47 409.20)" textLength="12.7" lengthAdjust="spacingAndGlyphs">ASN</text>
<text x="288.57" y="409.20" font-size="6.3" text-anchor="end" fill="#222" font-weight="bold" transform="rotate(-90 288.57 409.20)" textLength="12.7" lengthAdjust="spacingAndGlyphs">EUR</text>
<line x1="269.10" y1="425.60" x2="290.10" y2="425.60" stroke="#333" stroke-width="0.8" />
<text x="279.80" y="434.41" font-size="7.8" text-anchor="middle" fill="#000" textLength="20.8" lengthAdjust="spacingAndGlyphs">5'UTR</text>
<rect x="297.00" y="304.40" width="5.60" height="99.00" fill="#c0504d"/>
<rect x="303.80" y="327.60" width="6.10" height="75.80" fill="url(#hr)"/>
<rect x="311.12" y="320.12" width="5.15" height="83.57" fill="#fff" stroke="#c0504d" stroke-width="1.25"/>
<line x1="294.70" y1="300.40" x2="315.90" y2="300.40" stroke="#c0504d" stroke-width="1.4" />
<text x="302.17" y="409.20" font-size="6.3" text-anchor="end" fill="#222" font-weight="bold" transform="rotate(-90 302.17 409.20)" textLength="12.7" lengthAdjust="spacingAndGlyphs">AFR</text>
<text x="309.27" y="409.20" font-size="6.3" text-anchor="end" fill="#222" font-weight="bold" transform="rotate(-90 309.27 409.20)" textLength="12.7" lengthAdjust="spacingAndGlyphs">ASN</text>
<text x="316.37" y="409.20" font-size="6.3" text-anchor="end" fill="#222" font-weight="bold" transform="rotate(-90 316.37 409.20)" textLength="12.7" lengthAdjust="spacingAndGlyphs">EUR</text>
<line x1="296.90" y1="425.60" x2="317.90" y2="425.60" stroke="#333" stroke-width="0.8" />
<text x="308.80" y="434.41" font-size="7.8" text-anchor="middle" fill="#000" textLength="22.7" lengthAdjust="spacingAndGlyphs">coding</text>
<rect x="324.80" y="279.00" width="5.60" height="124.40" fill="#00b050"/>
<rect x="331.60" y="314.00" width="6.10" height="89.40" fill="url(#hg)"/>
<rect x="338.93" y="303.02" width="5.15" height="100.68" fill="#fff" stroke="#00b050" stroke-width="1.25"/>
<line x1="322.50" y1="272.80" x2="343.70" y2="272.80" stroke="#00b050" stroke-width="1.4" />
<text x="329.97" y="409.20" font-size="6.3" text-anchor="end" fill="#222" font-weight="bold" transform="rotate(-90 329.97 409.20)" textLength="12.7" lengthAdjust="spacingAndGlyphs">AFR</text>
<text x="337.07" y="409.20" font-size="6.3" text-anchor="end" fill="#222" font-weight="bold" transform="rotate(-90 337.07 409.20)" textLength="12.7" lengthAdjust="spacingAndGlyphs">ASN</text>
<text x="344.17" y="409.20" font-size="6.3" text-anchor="end" fill="#222" font-weight="bold" transform="rotate(-90 344.17 409.20)" textLength="12.7" lengthAdjust="spacingAndGlyphs">EUR</text>
<line x1="324.70" y1="425.60" x2="345.70" y2="425.60" stroke="#333" stroke-width="0.8" />
<text x="337.00" y="434.41" font-size="7.8" text-anchor="middle" fill="#000" textLength="21.0" lengthAdjust="spacingAndGlyphs">intron</text>
<rect x="352.60" y="286.20" width="5.60" height="117.20" fill="#8064a2"/>
<rect x="359.40" y="315.10" width="6.10" height="88.30" fill="url(#hp)"/>
<rect x="366.73" y="304.52" width="5.15" height="99.18" fill="#fff" stroke="#8064a2" stroke-width="1.25"/>
<line x1="350.30" y1="281.40" x2="371.50" y2="281.40" stroke="#8064a2" stroke-width="1.4" />
<text x="357.77" y="409.20" font-size="6.3" text-anchor="end" fill="#222" font-weight="bold" transform="rotate(-90 357.77 409.20)" textLength="12.7" lengthAdjust="spacingAndGlyphs">AFR</text>
<text x="364.87" y="409.20" font-size="6.3" text-anchor="end" fill="#222" font-weight="bold" transform="rotate(-90 364.87 409.20)" textLength="12.7" lengthAdjust="spacingAndGlyphs">ASN</text>
<text x="371.97" y="409.20" font-size="6.3" text-anchor="end" fill="#222" font-weight="bold" transform="rotate(-90 371.97 409.20)" textLength="12.7" lengthAdjust="spacingAndGlyphs">EUR</text>
<line x1="352.50" y1="425.60" x2="373.50" y2="425.60" stroke="#333" stroke-width="0.8" />
<text x="363.60" y="434.41" font-size="7.8" text-anchor="middle" fill="#000" textLength="20.8" lengthAdjust="spacingAndGlyphs">3'UTR</text>
<text x="320.50" y="453.90" font-size="10" text-anchor="middle" fill="#595959" textLength="32.5" lengthAdjust="spacingAndGlyphs">0.1-0.5</text>
<rect x="383.50" y="352.30" width="5.60" height="51.10" fill="#4f81bd"/>
<rect x="390.30" y="333.20" width="6.10" height="70.20" fill="url(#hb)"/>
<rect x="397.62" y="336.73" width="5.15" height="66.97" fill="#fff" stroke="#4f81bd" stroke-width="1.25"/>
<line x1="381.20" y1="330.10" x2="402.40" y2="330.10" stroke="#4f81bd" stroke-width="1.4" />
<text x="388.67" y="409.20" font-size="6.3" text-anchor="end" fill="#222" font-weight="bold" transform="rotate(-90 388.67 409.20)" textLength="12.7" lengthAdjust="spacingAndGlyphs">AFR</text>
<text x="395.77" y="409.20" font-size="6.3" text-anchor="end" fill="#222" font-weight="bold" transform="rotate(-90 395.77 409.20)" textLength="12.7" lengthAdjust="spacingAndGlyphs">ASN</text>
<text x="402.87" y="409.20" font-size="6.3" text-anchor="end" fill="#222" font-weight="bold" transform="rotate(-90 402.87 409.20)" textLength="12.7" lengthAdjust="spacingAndGlyphs">EUR</text>
<line x1="383.40" y1="425.60" x2="404.40" y2="425.60" stroke="#333" stroke-width="0.8" />
<text x="394.10" y="434.41" font-size="7.8" text-anchor="middle" fill="#000" textLength="20.8" lengthAdjust="spacingAndGlyphs">5'UTR</text>
<rect x="411.30" y="361.90" width="5.60" height="41.50" fill="#c0504d"/>
<rect x="418.10" y="346.10" width="6.10" height="57.30" fill="url(#hr)"/>
<rect x="425.43" y="349.12" width="5.15" height="54.57" fill="#fff" stroke="#c0504d" stroke-width="1.25"/>
<line x1="409.00" y1="341.70" x2="430.20" y2="341.70" stroke="#c0504d" stroke-width="1.4" />
<text x="416.47" y="409.20" font-size="6.3" text-anchor="end" fill="#222" font-weight="bold" transform="rotate(-90 416.47 409.20)" textLength="12.7" lengthAdjust="spacingAndGlyphs">AFR</text>
<text x="423.57" y="409.20" font-size="6.3" text-anchor="end" fill="#222" font-weight="bold" transform="rotate(-90 423.57 409.20)" textLength="12.7" lengthAdjust="spacingAndGlyphs">ASN</text>
<text x="430.67" y="409.20" font-size="6.3" text-anchor="end" fill="#222" font-weight="bold" transform="rotate(-90 430.67 409.20)" textLength="12.7" lengthAdjust="spacingAndGlyphs">EUR</text>
<line x1="411.20" y1="425.60" x2="432.20" y2="425.60" stroke="#333" stroke-width="0.8" />
<text x="423.10" y="434.41" font-size="7.8" text-anchor="middle" fill="#000" textLength="22.7" lengthAdjust="spacingAndGlyphs">coding</text>
<rect x="439.10" y="350.10" width="5.60" height="53.30" fill="#00b050"/>
<rect x="445.90" y="331.00" width="6.10" height="72.40" fill="url(#hg)"/>
<rect x="453.23" y="333.23" width="5.15" height="70.47" fill="#fff" stroke="#00b050" stroke-width="1.25"/>
<line x1="436.80" y1="327.30" x2="458.00" y2="327.30" stroke="#00b050" stroke-width="1.4" />
<text x="444.27" y="409.20" font-size="6.3" text-anchor="end" fill="#222" font-weight="bold" transform="rotate(-90 444.27 409.20)" textLength="12.7" lengthAdjust="spacingAndGlyphs">AFR</text>
<text x="451.37" y="409.20" font-size="6.3" text-anchor="end" fill="#222" font-weight="bold" transform="rotate(-90 451.37 409.20)" textLength="12.7" lengthAdjust="spacingAndGlyphs">ASN</text>
<text x="458.47" y="409.20" font-size="6.3" text-anchor="end" fill="#222" font-weight="bold" transform="rotate(-90 458.47 409.20)" textLength="12.7" lengthAdjust="spacingAndGlyphs">EUR</text>
<line x1="439.00" y1="425.60" x2="460.00" y2="425.60" stroke="#333" stroke-width="0.8" />
<text x="451.30" y="434.41" font-size="7.8" text-anchor="middle" fill="#000" textLength="21.0" lengthAdjust="spacingAndGlyphs">intron</text>
<rect x="466.90" y="352.70" width="5.60" height="50.70" fill="#8064a2"/>
<rect x="473.70" y="335.60" width="6.10" height="67.80" fill="url(#hp)"/>
<rect x="481.02" y="338.02" width="5.15" height="65.68" fill="#fff" stroke="#8064a2" stroke-width="1.25"/>
<line x1="464.60" y1="330.80" x2="485.80" y2="330.80" stroke="#8064a2" stroke-width="1.4" />
<text x="472.07" y="409.20" font-size="6.3" text-anchor="end" fill="#222" font-weight="bold" transform="rotate(-90 472.07 409.20)" textLength="12.7" lengthAdjust="spacingAndGlyphs">AFR</text>
<text x="479.17" y="409.20" font-size="6.3" text-anchor="end" fill="#222" font-weight="bold" transform="rotate(-90 479.17 409.20)" textLength="12.7" lengthAdjust="spacingAndGlyphs">ASN</text>
<text x="486.27" y="409.20" font-size="6.3" text-anchor="end" fill="#222" font-weight="bold" transform="rotate(-90 486.27 409.20)" textLength="12.7" lengthAdjust="spacingAndGlyphs">EUR</text>
<line x1="466.80" y1="425.60" x2="487.80" y2="425.60" stroke="#333" stroke-width="0.8" />
<text x="477.90" y="434.41" font-size="7.8" text-anchor="middle" fill="#000" textLength="20.8" lengthAdjust="spacingAndGlyphs">3'UTR</text>
<text x="434.80" y="453.90" font-size="10" text-anchor="middle" fill="#595959" textLength="22.5" lengthAdjust="spacingAndGlyphs">0.5-1</text>
<text x="205.40" y="470.50" font-size="10.2" text-anchor="start" fill="#222" font-weight="bold" textLength="115.5" lengthAdjust="spacingAndGlyphs">Derived Allele Frequency</text>
<path d="M48.30 279.80 V277.20 Q48.30 276.20 49.30 276.20 H74.50 Q75.50 276.20 75.50 277.20 V279.80" fill="none" stroke="#111" stroke-width="1.1"/>
<text x="60.80" y="277.65" font-size="8.5" text-anchor="middle" fill="#000" textLength="13.2" lengthAdjust="spacingAndGlyphs">***</text>
<path d="M78.20 279.80 V277.20 Q78.20 276.20 79.20 276.20 H103.50 Q104.50 276.20 104.50 277.20 V279.80" fill="none" stroke="#111" stroke-width="1.1"/>
<text x="91.30" y="277.05" font-size="8.5" text-anchor="middle" fill="#000" textLength="13.2" lengthAdjust="spacingAndGlyphs">***</text>
<path d="M78.20 269.90 V267.10 Q78.20 266.10 79.20 266.10 H130.50 Q131.50 266.10 131.50 267.10 V269.90" fill="none" stroke="#111" stroke-width="1.1"/>
<text x="103.80" y="266.75" font-size="8.5" text-anchor="middle" fill="#000" textLength="13.2" lengthAdjust="spacingAndGlyphs">***</text>
<path d="M165.40 330.10 V327.50 Q165.40 326.50 166.40 326.50 H190.90 Q191.90 326.50 191.90 327.50 V330.10" fill="none" stroke="#111" stroke-width="1.1"/>
<text x="177.70" y="325.45" font-size="8.5" text-anchor="middle" fill="#000" textLength="4.0" lengthAdjust="spacingAndGlyphs">*</text>
<path d="M181.60 340.70 V336.00 Q181.60 335.00 182.60 335.00 H237.30 Q238.30 335.00 238.30 336.00 V340.70" fill="none" stroke="#111" stroke-width="1.1"/>
<text x="207.40" y="338.15" font-size="8.5" text-anchor="middle" fill="#000" textLength="13.2" lengthAdjust="spacingAndGlyphs">***</text>
<path d="M183.40 354.50 V351.60 Q183.40 350.60 184.40 350.60 H209.30 Q210.30 350.60 210.30 351.60 V354.50" fill="none" stroke="#111" stroke-width="1.1"/>
<text x="197.20" y="351.95" font-size="8.5" text-anchor="middle" fill="#000" textLength="4.0" lengthAdjust="spacingAndGlyphs">*</text>
<path d="M170.20 370.90 V368.20 Q170.20 367.20 171.20 367.20 H196.40 Q197.40 367.20 197.40 368.20 V370.90" fill="none" stroke="#111" stroke-width="1.1"/>
<text x="183.80" y="369.65" font-size="8.5" text-anchor="middle" fill="#000" textLength="4.0" lengthAdjust="spacingAndGlyphs">*</text>
<path d="M197.40 370.90 V365.80 Q197.40 364.80 198.40 364.80 H251.50 Q252.50 364.80 252.50 365.80 V368.80" fill="none" stroke="#111" stroke-width="1.1"/>
<text x="224.10" y="367.45" font-size="8.5" text-anchor="middle" fill="#000" textLength="4.0" lengthAdjust="spacingAndGlyphs">*</text>
<path d="M277.10 275.50 V273.00 Q277.10 272.00 278.10 272.00 H302.80 Q303.80 272.00 303.80 273.00 V275.50" fill="none" stroke="#111" stroke-width="1.1"/>
<text x="289.60" y="272.45" font-size="8.5" text-anchor="middle" fill="#000" textLength="13.2" lengthAdjust="spacingAndGlyphs">***</text>
<path d="M309.30 270.20 V267.70 Q309.30 266.70 310.30 266.70 H335.50 Q336.50 266.70 336.50 267.70 V270.20" fill="none" stroke="#111" stroke-width="1.1"/>
<text x="322.90" y="267.85" font-size="8.5" text-anchor="middle" fill="#000" textLength="13.2" lengthAdjust="spacingAndGlyphs">***</text>
<path d="M308.40 257.70 V255.20 Q308.40 254.20 309.40 254.20 H361.10 Q362.10 254.20 362.10 255.20 V257.70" fill="none" stroke="#111" stroke-width="1.1"/>
<text x="333.80" y="255.34" font-size="8.5" text-anchor="middle" fill="#000" textLength="13.2" lengthAdjust="spacingAndGlyphs">***</text>
<path d="M388.60 327.30 V324.60 Q388.60 323.60 389.60 323.60 H414.50 Q415.50 323.60 415.50 324.60 V327.30" fill="none" stroke="#111" stroke-width="1.1"/>
<text x="402.20" y="325.15" font-size="8.5" text-anchor="middle" fill="#000" textLength="13.2" lengthAdjust="spacingAndGlyphs">***</text>
<path d="M420.80 323.80 V321.10 Q420.80 320.10 421.80 320.10 H446.50 Q447.50 320.10 447.50 321.10 V323.80" fill="none" stroke="#111" stroke-width="1.1"/>
<text x="434.20" y="322.55" font-size="8.5" text-anchor="middle" fill="#000" textLength="13.2" lengthAdjust="spacingAndGlyphs">***</text>
<path d="M420.40 310.70 V307.90 Q420.40 306.90 421.40 306.90 H472.40 Q473.40 306.90 473.40 307.90 V310.70" fill="none" stroke="#111" stroke-width="1.1"/>
<text x="445.50" y="306.95" font-size="8.5" text-anchor="middle" fill="#000" textLength="13.2" lengthAdjust="spacingAndGlyphs">***</text>
<rect x="569.5" y="271.5" width="188" height="158" fill="none" stroke="#3c3c3c" stroke-width="1"/>
<line x1="563.60" y1="423.40" x2="569.60" y2="423.40" stroke="#111" stroke-width="0.9" />
<text x="555.74" y="423.40" font-size="10.4" text-anchor="middle" fill="#262626" transform="rotate(-90 555.74 423.40)" textLength="13.0" lengthAdjust="spacingAndGlyphs">0.0</text>
<line x1="563.60" y1="398.98" x2="569.60" y2="398.98" stroke="#111" stroke-width="0.9" />
<text x="555.74" y="398.98" font-size="10.4" text-anchor="middle" fill="#262626" transform="rotate(-90 555.74 398.98)" textLength="13.0" lengthAdjust="spacingAndGlyphs">0.2</text>
<line x1="563.60" y1="374.56" x2="569.60" y2="374.56" stroke="#111" stroke-width="0.9" />
<text x="555.74" y="374.56" font-size="10.4" text-anchor="middle" fill="#262626" transform="rotate(-90 555.74 374.56)" textLength="13.0" lengthAdjust="spacingAndGlyphs">0.4</text>
<line x1="563.60" y1="350.14" x2="569.60" y2="350.14" stroke="#111" stroke-width="0.9" />
<text x="555.74" y="350.14" font-size="10.4" text-anchor="middle" fill="#262626" transform="rotate(-90 555.74 350.14)" textLength="13.0" lengthAdjust="spacingAndGlyphs">0.6</text>
<line x1="563.60" y1="325.72" x2="569.60" y2="325.72" stroke="#111" stroke-width="0.9" />
<text x="555.74" y="325.72" font-size="10.4" text-anchor="middle" fill="#262626" transform="rotate(-90 555.74 325.72)" textLength="13.0" lengthAdjust="spacingAndGlyphs">0.8</text>
<line x1="563.60" y1="301.30" x2="569.60" y2="301.30" stroke="#111" stroke-width="0.9" />
<text x="555.74" y="301.30" font-size="10.4" text-anchor="middle" fill="#262626" transform="rotate(-90 555.74 301.30)" textLength="13.0" lengthAdjust="spacingAndGlyphs">1.0</text>
<line x1="563.60" y1="276.88" x2="569.60" y2="276.88" stroke="#111" stroke-width="0.9" />
<text x="555.74" y="276.88" font-size="10.4" text-anchor="middle" fill="#262626" transform="rotate(-90 555.74 276.88)" textLength="13.0" lengthAdjust="spacingAndGlyphs">1.2</text>
<line x1="569.60" y1="423.40" x2="569.60" y2="276.90" stroke="#222" stroke-width="0.8" />
<text x="531.20" y="358.90" font-size="15.5" text-anchor="start" fill="#000" font-weight="bold" transform="rotate(-90 531.20 358.90)" textLength="6.4" lengthAdjust="spacingAndGlyphs" style="stroke:#000;stroke-width:0.7px">F</text>
<text x="534.80" y="352.00" font-size="9.6" text-anchor="start" fill="#000" font-weight="bold" transform="rotate(-90 534.80 352.00)" textLength="10.8" lengthAdjust="spacingAndGlyphs" style="font-style:italic">ST</text>
<g fill="none" stroke="#000" stroke-width="0.8"><circle cx="598.4" cy="301.3" r="1.75"/><circle cx="598.4" cy="302.1" r="1.75"/><circle cx="598.4" cy="313.5" r="1.75"/><circle cx="598.4" cy="328.0" r="1.75"/><circle cx="598.4" cy="329.6" r="1.75"/><circle cx="598.4" cy="333.0" r="1.75"/><circle cx="598.4" cy="337.9" r="1.75"/><circle cx="598.4" cy="341.2" r="1.75"/><circle cx="598.4" cy="343.6" r="1.75"/><circle cx="598.4" cy="345.6" r="1.75"/><circle cx="598.4" cy="347.2" r="1.75"/><circle cx="598.4" cy="348.6" r="1.75"/><circle cx="598.4" cy="349.4" r="1.75"/><circle cx="598.4" cy="350.2" r="1.75"/><circle cx="598.4" cy="351.0" r="1.75"/><circle cx="598.4" cy="351.8" r="1.75"/><circle cx="598.4" cy="352.6" r="1.75"/><circle cx="598.4" cy="353.4" r="1.75"/><circle cx="598.4" cy="354.2" r="1.75"/><circle cx="598.4" cy="355.0" r="1.75"/><circle cx="598.4" cy="355.8" r="1.75"/><circle cx="598.4" cy="356.6" r="1.75"/><circle cx="598.4" cy="357.4" r="1.75"/><circle cx="598.4" cy="358.2" r="1.75"/><circle cx="598.4" cy="359.0" r="1.75"/><circle cx="598.4" cy="359.8" r="1.75"/><circle cx="598.4" cy="360.6" r="1.75"/><circle cx="598.4" cy="361.4" r="1.75"/><circle cx="598.4" cy="362.2" r="1.75"/><circle cx="598.4" cy="363.0" r="1.75"/><circle cx="598.4" cy="363.8" r="1.75"/><circle cx="598.4" cy="364.6" r="1.75"/><circle cx="598.4" cy="365.4" r="1.75"/><circle cx="598.4" cy="366.2" r="1.75"/><circle cx="598.4" cy="367.0" r="1.75"/><circle cx="598.4" cy="367.8" r="1.75"/><circle cx="598.4" cy="368.6" r="1.75"/><circle cx="598.4" cy="369.4" r="1.75"/><circle cx="598.4" cy="370.2" r="1.75"/><circle cx="598.4" cy="371.0" r="1.75"/><circle cx="598.4" cy="371.8" r="1.75"/><circle cx="598.4" cy="372.6" r="1.75"/><circle cx="598.4" cy="373.4" r="1.75"/><circle cx="598.4" cy="374.2" r="1.75"/><circle cx="598.4" cy="375.0" r="1.75"/><circle cx="598.4" cy="375.8" r="1.75"/><circle cx="598.4" cy="376.6" r="1.75"/><circle cx="598.4" cy="377.4" r="1.75"/><circle cx="598.4" cy="378.2" r="1.75"/><circle cx="598.4" cy="379.0" r="1.75"/><circle cx="598.4" cy="379.8" r="1.75"/></g>
<line x1="589.60" y1="380.30" x2="607.20" y2="380.30" stroke="#111" stroke-width="0.9" />
<line x1="598.40" y1="380.30" x2="598.40" y2="404.50" stroke="#111" stroke-width="0.9" stroke-dasharray="2.8 1.7"/>
<line x1="598.40" y1="420.30" x2="598.40" y2="423.40" stroke="#111" stroke-width="0.9" stroke-dasharray="1.5 1.2"/>
<line x1="590.10" y1="423.40" x2="606.70" y2="423.40" stroke="#111" stroke-width="0.9" />
<rect x="581.2" y="404.5" width="34.4" height="15.8" fill="#add8e6" stroke="#333" stroke-width="0.6"/>
<line x1="581.20" y1="415.00" x2="615.60" y2="415.00" stroke="#000" stroke-width="1.7" />
<line x1="598.40" y1="429.50" x2="598.40" y2="435.30" stroke="#111" stroke-width="0.9" />
<text x="598.40" y="451.50" font-size="10.4" text-anchor="middle" fill="#333" textLength="26.5" lengthAdjust="spacingAndGlyphs">5'UTR</text>
<g fill="none" stroke="#000" stroke-width="0.8"><circle cx="641.6" cy="300.8" r="1.75"/><circle cx="641.6" cy="302.5" r="1.75"/><circle cx="641.6" cy="304.2" r="1.75"/><circle cx="641.6" cy="305.9" r="1.75"/><circle cx="641.6" cy="307.6" r="1.75"/><circle cx="641.6" cy="309.3" r="1.75"/><circle cx="641.6" cy="311.0" r="1.75"/><circle cx="641.6" cy="312.7" r="1.75"/><circle cx="641.6" cy="314.4" r="1.75"/><circle cx="641.6" cy="316.1" r="1.75"/><circle cx="641.6" cy="317.8" r="1.75"/><circle cx="641.6" cy="319.5" r="1.75"/><circle cx="641.6" cy="321.2" r="1.75"/><circle cx="641.6" cy="322.9" r="1.75"/><circle cx="641.6" cy="324.6" r="1.75"/><circle cx="641.6" cy="326.3" r="1.75"/><circle cx="641.6" cy="328.0" r="1.75"/><circle cx="641.6" cy="329.7" r="1.75"/><circle cx="641.6" cy="331.4" r="1.75"/><circle cx="641.6" cy="333.1" r="1.75"/><circle cx="641.6" cy="334.8" r="1.75"/><circle cx="641.6" cy="336.5" r="1.75"/><circle cx="641.6" cy="338.2" r="1.75"/><circle cx="641.6" cy="339.9" r="1.75"/><circle cx="641.6" cy="341.6" r="1.75"/><circle cx="641.6" cy="343.3" r="1.75"/><circle cx="641.6" cy="345.0" r="1.75"/><circle cx="641.6" cy="346.7" r="1.75"/><circle cx="641.6" cy="348.4" r="1.75"/><circle cx="641.6" cy="350.1" r="1.75"/><circle cx="641.6" cy="351.8" r="1.75"/><circle cx="641.6" cy="353.5" r="1.75"/><circle cx="641.6" cy="354.3" r="1.75"/><circle cx="641.6" cy="355.1" r="1.75"/><circle cx="641.6" cy="355.9" r="1.75"/><circle cx="641.6" cy="356.7" r="1.75"/><circle cx="641.6" cy="357.5" r="1.75"/><circle cx="641.6" cy="358.3" r="1.75"/><circle cx="641.6" cy="359.1" r="1.75"/><circle cx="641.6" cy="359.9" r="1.75"/><circle cx="641.6" cy="360.7" r="1.75"/><circle cx="641.6" cy="361.5" r="1.75"/><circle cx="641.6" cy="362.3" r="1.75"/><circle cx="641.6" cy="363.1" r="1.75"/><circle cx="641.6" cy="363.9" r="1.75"/><circle cx="641.6" cy="364.7" r="1.75"/><circle cx="641.6" cy="365.5" r="1.75"/><circle cx="641.6" cy="366.3" r="1.75"/><circle cx="641.6" cy="367.1" r="1.75"/><circle cx="641.6" cy="367.9" r="1.75"/><circle cx="641.6" cy="368.7" r="1.75"/><circle cx="641.6" cy="369.5" r="1.75"/><circle cx="641.6" cy="370.3" r="1.75"/><circle cx="641.6" cy="371.1" r="1.75"/><circle cx="641.6" cy="371.9" r="1.75"/><circle cx="641.6" cy="372.7" r="1.75"/><circle cx="641.6" cy="373.5" r="1.75"/><circle cx="641.6" cy="374.3" r="1.75"/><circle cx="641.6" cy="375.1" r="1.75"/><circle cx="641.6" cy="375.9" r="1.75"/><circle cx="641.6" cy="376.7" r="1.75"/><circle cx="641.6" cy="377.5" r="1.75"/><circle cx="641.6" cy="378.3" r="1.75"/><circle cx="641.6" cy="379.1" r="1.75"/><circle cx="641.6" cy="379.9" r="1.75"/><circle cx="641.6" cy="380.7" r="1.75"/><circle cx="641.6" cy="381.5" r="1.75"/><circle cx="641.6" cy="382.3" r="1.75"/><circle cx="641.6" cy="383.1" r="1.75"/><circle cx="641.6" cy="383.9" r="1.75"/><circle cx="641.6" cy="384.7" r="1.75"/></g>
<line x1="632.80" y1="385.80" x2="650.40" y2="385.80" stroke="#111" stroke-width="0.9" />
<line x1="641.60" y1="385.80" x2="641.60" y2="407.30" stroke="#111" stroke-width="0.9" stroke-dasharray="2.8 1.7"/>
<line x1="641.60" y1="422.00" x2="641.60" y2="423.40" stroke="#111" stroke-width="0.9" stroke-dasharray="1.5 1.2"/>
<line x1="633.30" y1="423.40" x2="649.90" y2="423.40" stroke="#111" stroke-width="0.9" />
<rect x="624.4" y="407.3" width="34.4" height="14.7" fill="#ff0000" stroke="#333" stroke-width="0.6"/>
<line x1="624.40" y1="416.80" x2="658.80" y2="416.80" stroke="#000" stroke-width="1.7" />
<line x1="641.60" y1="429.50" x2="641.60" y2="435.30" stroke="#111" stroke-width="0.9" />
<text x="641.60" y="451.50" font-size="10.4" text-anchor="middle" fill="#333" textLength="29.5" lengthAdjust="spacingAndGlyphs">coding</text>
<g fill="none" stroke="#000" stroke-width="0.8"><circle cx="684.9" cy="300.5" r="1.75"/><circle cx="684.9" cy="301.3" r="1.75"/><circle cx="684.9" cy="302.1" r="1.75"/><circle cx="684.9" cy="302.9" r="1.75"/><circle cx="684.9" cy="303.7" r="1.75"/><circle cx="684.9" cy="304.5" r="1.75"/><circle cx="684.9" cy="305.3" r="1.75"/><circle cx="684.9" cy="306.1" r="1.75"/><circle cx="684.9" cy="306.9" r="1.75"/><circle cx="684.9" cy="307.7" r="1.75"/><circle cx="684.9" cy="308.5" r="1.75"/><circle cx="684.9" cy="309.3" r="1.75"/><circle cx="684.9" cy="310.1" r="1.75"/><circle cx="684.9" cy="310.9" r="1.75"/><circle cx="684.9" cy="311.7" r="1.75"/><circle cx="684.9" cy="312.5" r="1.75"/><circle cx="684.9" cy="313.3" r="1.75"/><circle cx="684.9" cy="314.1" r="1.75"/><circle cx="684.9" cy="314.9" r="1.75"/><circle cx="684.9" cy="315.7" r="1.75"/><circle cx="684.9" cy="316.5" r="1.75"/><circle cx="684.9" cy="317.3" r="1.75"/><circle cx="684.9" cy="318.1" r="1.75"/><circle cx="684.9" cy="318.9" r="1.75"/><circle cx="684.9" cy="319.7" r="1.75"/><circle cx="684.9" cy="320.5" r="1.75"/><circle cx="684.9" cy="321.3" r="1.75"/><circle cx="684.9" cy="322.1" r="1.75"/><circle cx="684.9" cy="322.9" r="1.75"/><circle cx="684.9" cy="323.7" r="1.75"/><circle cx="684.9" cy="324.5" r="1.75"/><circle cx="684.9" cy="325.3" r="1.75"/><circle cx="684.9" cy="326.1" r="1.75"/><circle cx="684.9" cy="326.9" r="1.75"/><circle cx="684.9" cy="327.7" r="1.75"/><circle cx="684.9" cy="328.5" r="1.75"/><circle cx="684.9" cy="329.3" r="1.75"/><circle cx="684.9" cy="330.1" r="1.75"/><circle cx="684.9" cy="330.9" r="1.75"/><circle cx="684.9" cy="331.7" r="1.75"/><circle cx="684.9" cy="332.5" r="1.75"/><circle cx="684.9" cy="333.3" r="1.75"/><circle cx="684.9" cy="334.1" r="1.75"/><circle cx="684.9" cy="334.9" r="1.75"/><circle cx="684.9" cy="335.7" r="1.75"/><circle cx="684.9" cy="336.5" r="1.75"/><circle cx="684.9" cy="337.3" r="1.75"/><circle cx="684.9" cy="338.1" r="1.75"/><circle cx="684.9" cy="338.9" r="1.75"/><circle cx="684.9" cy="339.7" r="1.75"/><circle cx="684.9" cy="340.5" r="1.75"/><circle cx="684.9" cy="341.3" r="1.75"/><circle cx="684.9" cy="342.1" r="1.75"/><circle cx="684.9" cy="342.9" r="1.75"/><circle cx="684.9" cy="343.7" r="1.75"/><circle cx="684.9" cy="344.5" r="1.75"/><circle cx="684.9" cy="345.3" r="1.75"/><circle cx="684.9" cy="346.1" r="1.75"/><circle cx="684.9" cy="346.9" r="1.75"/><circle cx="684.9" cy="347.7" r="1.75"/><circle cx="684.9" cy="348.5" r="1.75"/><circle cx="684.9" cy="349.3" r="1.75"/><circle cx="684.9" cy="350.1" r="1.75"/><circle cx="684.9" cy="350.9" r="1.75"/><circle cx="684.9" cy="351.7" r="1.75"/><circle cx="684.9" cy="352.5" r="1.75"/><circle cx="684.9" cy="353.3" r="1.75"/><circle cx="684.9" cy="354.1" r="1.75"/><circle cx="684.9" cy="354.9" r="1.75"/><circle cx="684.9" cy="355.7" r="1.75"/><circle cx="684.9" cy="356.5" r="1.75"/><circle cx="684.9" cy="357.3" r="1.75"/><circle cx="684.9" cy="358.1" r="1.75"/><circle cx="684.9" cy="358.9" r="1.75"/><circle cx="684.9" cy="359.7" r="1.75"/><circle cx="684.9" cy="360.5" r="1.75"/><circle cx="684.9" cy="361.3" r="1.75"/><circle cx="684.9" cy="362.1" r="1.75"/><circle cx="684.9" cy="362.9" r="1.75"/><circle cx="684.9" cy="363.7" r="1.75"/><circle cx="684.9" cy="364.5" r="1.75"/><circle cx="684.9" cy="365.3" r="1.75"/><circle cx="684.9" cy="366.1" r="1.75"/><circle cx="684.9" cy="366.9" r="1.75"/><circle cx="684.9" cy="367.7" r="1.75"/><circle cx="684.9" cy="368.5" r="1.75"/><circle cx="684.9" cy="369.3" r="1.75"/><circle cx="684.9" cy="370.1" r="1.75"/><circle cx="684.9" cy="370.9" r="1.75"/><circle cx="684.9" cy="371.7" r="1.75"/><circle cx="684.9" cy="372.5" r="1.75"/><circle cx="684.9" cy="373.3" r="1.75"/><circle cx="684.9" cy="374.1" r="1.75"/><circle cx="684.9" cy="374.9" r="1.75"/><circle cx="684.9" cy="375.7" r="1.75"/><circle cx="684.9" cy="376.5" r="1.75"/><circle cx="684.9" cy="377.3" r="1.75"/></g>
<line x1="676.10" y1="378.40" x2="693.70" y2="378.40" stroke="#111" stroke-width="0.9" />
<line x1="684.90" y1="378.40" x2="684.90" y2="403.80" stroke="#111" stroke-width="0.9" stroke-dasharray="2.8 1.7"/>
<line x1="684.90" y1="419.60" x2="684.90" y2="423.40" stroke="#111" stroke-width="0.9" stroke-dasharray="1.5 1.2"/>
<line x1="676.60" y1="423.40" x2="693.20" y2="423.40" stroke="#111" stroke-width="0.9" />
<rect x="667.7" y="403.8" width="34.4" height="15.8" fill="#90ee90" stroke="#333" stroke-width="0.6"/>
<line x1="667.70" y1="414.00" x2="702.10" y2="414.00" stroke="#000" stroke-width="1.7" />
<line x1="684.90" y1="429.50" x2="684.90" y2="435.30" stroke="#111" stroke-width="0.9" />
<text x="684.90" y="451.50" font-size="10.4" text-anchor="middle" fill="#333" textLength="24.0" lengthAdjust="spacingAndGlyphs">intron</text>
<g fill="none" stroke="#000" stroke-width="0.8"><circle cx="728.2" cy="302.0" r="1.75"/><circle cx="728.2" cy="304.3" r="1.75"/><circle cx="728.2" cy="310.4" r="1.75"/><circle cx="728.2" cy="317.5" r="1.75"/><circle cx="728.2" cy="319.2" r="1.75"/><circle cx="728.2" cy="321.0" r="1.75"/><circle cx="728.2" cy="323.0" r="1.75"/><circle cx="728.2" cy="324.6" r="1.75"/><circle cx="728.2" cy="325.4" r="1.75"/><circle cx="728.2" cy="326.2" r="1.75"/><circle cx="728.2" cy="327.0" r="1.75"/><circle cx="728.2" cy="327.8" r="1.75"/><circle cx="728.2" cy="328.6" r="1.75"/><circle cx="728.2" cy="329.4" r="1.75"/><circle cx="728.2" cy="330.2" r="1.75"/><circle cx="728.2" cy="331.0" r="1.75"/><circle cx="728.2" cy="331.8" r="1.75"/><circle cx="728.2" cy="332.6" r="1.75"/><circle cx="728.2" cy="333.4" r="1.75"/><circle cx="728.2" cy="334.2" r="1.75"/><circle cx="728.2" cy="335.0" r="1.75"/><circle cx="728.2" cy="335.8" r="1.75"/><circle cx="728.2" cy="336.6" r="1.75"/><circle cx="728.2" cy="337.4" r="1.75"/><circle cx="728.2" cy="338.2" r="1.75"/><circle cx="728.2" cy="339.0" r="1.75"/><circle cx="728.2" cy="339.8" r="1.75"/><circle cx="728.2" cy="340.6" r="1.75"/><circle cx="728.2" cy="341.4" r="1.75"/><circle cx="728.2" cy="342.2" r="1.75"/><circle cx="728.2" cy="343.0" r="1.75"/><circle cx="728.2" cy="343.8" r="1.75"/><circle cx="728.2" cy="344.6" r="1.75"/><circle cx="728.2" cy="345.4" r="1.75"/><circle cx="728.2" cy="346.2" r="1.75"/><circle cx="728.2" cy="347.0" r="1.75"/><circle cx="728.2" cy="347.8" r="1.75"/><circle cx="728.2" cy="348.6" r="1.75"/><circle cx="728.2" cy="349.4" r="1.75"/><circle cx="728.2" cy="350.2" r="1.75"/><circle cx="728.2" cy="351.0" r="1.75"/><circle cx="728.2" cy="351.8" r="1.75"/><circle cx="728.2" cy="352.6" r="1.75"/><circle cx="728.2" cy="353.4" r="1.75"/><circle cx="728.2" cy="354.2" r="1.75"/><circle cx="728.2" cy="355.0" r="1.75"/><circle cx="728.2" cy="355.8" r="1.75"/><circle cx="728.2" cy="356.6" r="1.75"/><circle cx="728.2" cy="357.4" r="1.75"/><circle cx="728.2" cy="358.2" r="1.75"/><circle cx="728.2" cy="359.0" r="1.75"/><circle cx="728.2" cy="359.8" r="1.75"/><circle cx="728.2" cy="360.6" r="1.75"/><circle cx="728.2" cy="361.4" r="1.75"/><circle cx="728.2" cy="362.2" r="1.75"/><circle cx="728.2" cy="363.0" r="1.75"/><circle cx="728.2" cy="363.8" r="1.75"/><circle cx="728.2" cy="364.6" r="1.75"/><circle cx="728.2" cy="365.4" r="1.75"/><circle cx="728.2" cy="366.2" r="1.75"/><circle cx="728.2" cy="367.0" r="1.75"/><circle cx="728.2" cy="367.8" r="1.75"/><circle cx="728.2" cy="368.6" r="1.75"/><circle cx="728.2" cy="369.4" r="1.75"/><circle cx="728.2" cy="370.2" r="1.75"/><circle cx="728.2" cy="371.0" r="1.75"/><circle cx="728.2" cy="371.8" r="1.75"/><circle cx="728.2" cy="372.6" r="1.75"/><circle cx="728.2" cy="373.4" r="1.75"/><circle cx="728.2" cy="374.2" r="1.75"/><circle cx="728.2" cy="375.0" r="1.75"/><circle cx="728.2" cy="375.8" r="1.75"/><circle cx="728.2" cy="376.6" r="1.75"/><circle cx="728.2" cy="377.4" r="1.75"/><circle cx="728.2" cy="378.2" r="1.75"/><circle cx="728.2" cy="379.0" r="1.75"/><circle cx="728.2" cy="379.8" r="1.75"/><circle cx="728.2" cy="380.6" r="1.75"/><circle cx="728.2" cy="381.4" r="1.75"/></g>
<line x1="719.40" y1="381.80" x2="737.00" y2="381.80" stroke="#111" stroke-width="0.9" />
<line x1="728.20" y1="381.80" x2="728.20" y2="404.50" stroke="#111" stroke-width="0.9" stroke-dasharray="2.8 1.7"/>
<line x1="728.20" y1="420.30" x2="728.20" y2="423.40" stroke="#111" stroke-width="0.9" stroke-dasharray="1.5 1.2"/>
<line x1="719.90" y1="423.40" x2="736.50" y2="423.40" stroke="#111" stroke-width="0.9" />
<rect x="711.0" y="404.5" width="34.4" height="15.8" fill="#a020f0" stroke="#333" stroke-width="0.6"/>
<line x1="711.00" y1="415.00" x2="745.40" y2="415.00" stroke="#000" stroke-width="1.7" />
<line x1="728.20" y1="429.50" x2="728.20" y2="435.30" stroke="#111" stroke-width="0.9" />
<text x="728.20" y="451.50" font-size="10.4" text-anchor="middle" fill="#333" textLength="26.5" lengthAdjust="spacingAndGlyphs">3'UTR</text>
<path d="M598.70 298.70 V296.50 Q598.70 295.50 599.70 295.50 H638.60 Q639.60 295.50 639.60 296.50 V298.70" fill="none" stroke="#222" stroke-width="0.8"/>
<text x="621.00" y="295.95" font-size="8.5" text-anchor="middle" fill="#222" font-weight="bold" textLength="12.0" lengthAdjust="spacingAndGlyphs">***</text>
<path d="M643.80 298.70 V296.50 Q643.80 295.50 644.80 295.50 H683.90 Q684.90 295.50 684.90 296.50 V298.70" fill="none" stroke="#222" stroke-width="0.8"/>
<text x="664.10" y="295.55" font-size="8.5" text-anchor="middle" fill="#222" font-weight="bold" textLength="12.0" lengthAdjust="spacingAndGlyphs">***</text>
<path d="M643.80 285.70 V283.50 Q643.80 282.50 644.80 282.50 H728.20 Q729.20 282.50 729.20 283.50 V285.70" fill="none" stroke="#222" stroke-width="0.8"/>
<text x="689.30" y="281.95" font-size="8.5" text-anchor="middle" fill="#222" font-weight="bold" textLength="12.0" lengthAdjust="spacingAndGlyphs">***</text>
<line x1="67.50" y1="525.70" x2="67.50" y2="757.80" stroke="#111" stroke-width="1.0" />
<line x1="67.75" y1="534.30" x2="67.75" y2="686.30" stroke="#000" stroke-width="1.6" />
<line x1="169.50" y1="522.50" x2="169.50" y2="754.30" stroke="#111" stroke-width="1.0" />
<line x1="169.75" y1="534.30" x2="169.75" y2="686.30" stroke="#000" stroke-width="1.6" />
<line x1="271.50" y1="520.10" x2="271.50" y2="752.30" stroke="#111" stroke-width="1.0" />
<line x1="271.75" y1="534.30" x2="271.75" y2="686.30" stroke="#000" stroke-width="1.6" />
<line x1="373.50" y1="520.80" x2="373.50" y2="751.40" stroke="#111" stroke-width="1.0" />
<line x1="373.75" y1="534.30" x2="373.75" y2="686.30" stroke="#000" stroke-width="1.6" />
<line x1="476.50" y1="515.90" x2="476.50" y2="748.00" stroke="#111" stroke-width="1.0" />
<line x1="67.50" y1="686.30" x2="476.80" y2="686.30" stroke="#d0d0d0" stroke-width="1.0" />
<text x="55.30" y="690.26" font-size="11" text-anchor="end" fill="#404040" textLength="16.0" lengthAdjust="spacingAndGlyphs">0%</text>
<text x="55.30" y="664.94" font-size="11" text-anchor="end" fill="#404040" textLength="22.0" lengthAdjust="spacingAndGlyphs">10%</text>
<text x="55.30" y="639.62" font-size="11" text-anchor="end" fill="#404040" textLength="22.0" lengthAdjust="spacingAndGlyphs">20%</text>
<text x="55.30" y="614.30" font-size="11" text-anchor="end" fill="#404040" textLength="22.0" lengthAdjust="spacingAndGlyphs">30%</text>
<text x="55.30" y="588.98" font-size="11" text-anchor="end" fill="#404040" textLength="22.0" lengthAdjust="spacingAndGlyphs">40%</text>
<text x="55.30" y="563.66" font-size="11" text-anchor="end" fill="#404040" textLength="22.0" lengthAdjust="spacingAndGlyphs">50%</text>
<text x="55.30" y="538.34" font-size="11" text-anchor="end" fill="#404040" textLength="22.0" lengthAdjust="spacingAndGlyphs">60%</text>
<text x="23.85" y="610.70" font-size="12.5" text-anchor="middle" fill="#222" font-weight="bold" transform="rotate(-90 23.85 610.70)" textLength="44.0" lengthAdjust="spacingAndGlyphs">% SNVs</text>
<rect x="78.90" y="577.90" width="9.10" height="108.40" fill="#663300"/>
<rect x="90.90" y="561.70" width="9.10" height="124.60" fill="url(#hbr)"/>
<rect x="102.70" y="567.50" width="9.50" height="119.30" fill="#fff" stroke="#663300" stroke-width="1.8"/>
<line x1="77.10" y1="554.10" x2="112.90" y2="554.10" stroke="#663300" stroke-width="1.9" />
<text x="87.71" y="691.00" font-size="10.3" text-anchor="end" fill="#222" font-weight="bold" transform="rotate(-90 87.71 691.00)" textLength="17.3" lengthAdjust="spacingAndGlyphs">AFR</text>
<text x="99.81" y="691.00" font-size="10.3" text-anchor="end" fill="#222" font-weight="bold" transform="rotate(-90 99.81 691.00)" textLength="18.5" lengthAdjust="spacingAndGlyphs">ASN</text>
<text x="111.91" y="691.60" font-size="10.3" text-anchor="end" fill="#222" font-weight="bold" transform="rotate(-90 111.91 691.60)" textLength="17.3" lengthAdjust="spacingAndGlyphs">CEU</text>
<line x1="78.90" y1="713.50" x2="112.70" y2="713.50" stroke="#222" stroke-width="0.9" />
<rect x="126.95" y="620.30" width="9.10" height="66.00" fill="#e46c0a"/>
<rect x="138.95" y="597.20" width="9.10" height="89.10" fill="url(#hor)"/>
<rect x="150.75" y="604.30" width="9.50" height="82.50" fill="#fff" stroke="#e46c0a" stroke-width="1.8"/>
<line x1="124.90" y1="587.70" x2="160.90" y2="587.70" stroke="#f79646" stroke-width="1.9" />
<text x="138.71" y="691.00" font-size="10.3" text-anchor="end" fill="#222" font-weight="bold" transform="rotate(-90 138.71 691.00)" textLength="17.3" lengthAdjust="spacingAndGlyphs">AFR</text>
<text x="151.41" y="691.00" font-size="10.3" text-anchor="end" fill="#222" font-weight="bold" transform="rotate(-90 151.41 691.00)" textLength="18.5" lengthAdjust="spacingAndGlyphs">ASN</text>
<text x="163.51" y="691.60" font-size="10.3" text-anchor="end" fill="#222" font-weight="bold" transform="rotate(-90 163.51 691.60)" textLength="17.3" lengthAdjust="spacingAndGlyphs">CEU</text>
<line x1="130.10" y1="713.50" x2="164.00" y2="713.50" stroke="#222" stroke-width="0.9" />
<rect x="181.10" y="659.40" width="9.10" height="26.90" fill="#663300"/>
<rect x="193.10" y="670.70" width="9.10" height="15.60" fill="url(#hbr)"/>
<rect x="204.90" y="669.40" width="9.50" height="17.40" fill="#fff" stroke="#663300" stroke-width="1.8"/>
<text x="193.31" y="693.30" font-size="10.3" text-anchor="end" fill="#222" font-weight="bold" transform="rotate(-90 193.31 693.30)" textLength="18.2" lengthAdjust="spacingAndGlyphs">AFR</text>
<text x="205.91" y="694.50" font-size="10.3" text-anchor="end" fill="#222" font-weight="bold" transform="rotate(-90 205.91 694.50)" textLength="19.3" lengthAdjust="spacingAndGlyphs">ASN</text>
<text x="218.51" y="695.80" font-size="10.3" text-anchor="end" fill="#222" font-weight="bold" transform="rotate(-90 218.51 695.80)" textLength="17.5" lengthAdjust="spacingAndGlyphs">CEU</text>
<line x1="183.30" y1="714.50" x2="216.90" y2="714.50" stroke="#222" stroke-width="0.9" />
<rect x="229.15" y="656.00" width="9.10" height="30.30" fill="#e46c0a"/>
<rect x="241.15" y="669.50" width="9.10" height="16.80" fill="url(#hor)"/>
<rect x="252.95" y="667.70" width="9.50" height="19.10" fill="#fff" stroke="#e46c0a" stroke-width="1.8"/>
<text x="240.91" y="693.00" font-size="10.3" text-anchor="end" fill="#222" font-weight="bold" transform="rotate(-90 240.91 693.00)" textLength="18.2" lengthAdjust="spacingAndGlyphs">AFR</text>
<text x="253.51" y="694.20" font-size="10.3" text-anchor="end" fill="#222" font-weight="bold" transform="rotate(-90 253.51 694.20)" textLength="19.3" lengthAdjust="spacingAndGlyphs">ASN</text>
<text x="266.11" y="695.50" font-size="10.3" text-anchor="end" fill="#222" font-weight="bold" transform="rotate(-90 266.11 695.50)" textLength="17.5" lengthAdjust="spacingAndGlyphs">CEU</text>
<line x1="230.90" y1="715.50" x2="263.80" y2="715.50" stroke="#222" stroke-width="0.9" />
<rect x="283.20" y="603.10" width="9.10" height="83.20" fill="#663300"/>
<rect x="295.20" y="621.00" width="9.10" height="65.30" fill="url(#hbr)"/>
<rect x="307.00" y="614.80" width="9.50" height="72.00" fill="#fff" stroke="#663300" stroke-width="1.8"/>
<line x1="283.90" y1="594.00" x2="319.70" y2="594.00" stroke="#663300" stroke-width="1.9" />
<text x="296.21" y="693.30" font-size="10.3" text-anchor="end" fill="#222" font-weight="bold" transform="rotate(-90 296.21 693.30)" textLength="18.2" lengthAdjust="spacingAndGlyphs">AFR</text>
<text x="308.81" y="694.50" font-size="10.3" text-anchor="end" fill="#222" font-weight="bold" transform="rotate(-90 308.81 694.50)" textLength="19.3" lengthAdjust="spacingAndGlyphs">ASN</text>
<text x="321.41" y="695.80" font-size="10.3" text-anchor="end" fill="#222" font-weight="bold" transform="rotate(-90 321.41 695.80)" textLength="17.5" lengthAdjust="spacingAndGlyphs">CEU</text>
<line x1="286.20" y1="714.50" x2="319.80" y2="714.50" stroke="#222" stroke-width="0.9" />
<rect x="331.25" y="577.90" width="9.10" height="108.40" fill="#e46c0a"/>
<rect x="343.25" y="605.30" width="9.10" height="81.00" fill="url(#hor)"/>
<rect x="355.05" y="597.90" width="9.50" height="88.90" fill="#fff" stroke="#e46c0a" stroke-width="1.8"/>
<line x1="331.30" y1="568.70" x2="367.00" y2="568.70" stroke="#f79646" stroke-width="1.9" />
<text x="344.61" y="693.00" font-size="10.3" text-anchor="end" fill="#222" font-weight="bold" transform="rotate(-90 344.61 693.00)" textLength="18.2" lengthAdjust="spacingAndGlyphs">AFR</text>
<text x="357.21" y="694.20" font-size="10.3" text-anchor="end" fill="#222" font-weight="bold" transform="rotate(-90 357.21 694.20)" textLength="19.3" lengthAdjust="spacingAndGlyphs">ASN</text>
<text x="369.81" y="695.50" font-size="10.3" text-anchor="end" fill="#222" font-weight="bold" transform="rotate(-90 369.81 695.50)" textLength="17.5" lengthAdjust="spacingAndGlyphs">CEU</text>
<line x1="337.30" y1="715.50" x2="371.00" y2="715.50" stroke="#222" stroke-width="0.9" />
<rect x="385.10" y="652.60" width="9.10" height="33.70" fill="#663300"/>
<rect x="397.10" y="639.60" width="9.10" height="46.70" fill="url(#hbr)"/>
<rect x="408.90" y="642.50" width="9.50" height="44.30" fill="#fff" stroke="#663300" stroke-width="1.8"/>
<line x1="385.90" y1="627.80" x2="421.60" y2="627.80" stroke="#663300" stroke-width="1.9" />
<text x="395.41" y="694.50" font-size="10.3" text-anchor="end" fill="#222" font-weight="bold" transform="rotate(-90 395.41 694.50)" textLength="18.2" lengthAdjust="spacingAndGlyphs">AFR</text>
<text x="408.01" y="695.70" font-size="10.3" text-anchor="end" fill="#222" font-weight="bold" transform="rotate(-90 408.01 695.70)" textLength="19.3" lengthAdjust="spacingAndGlyphs">ASN</text>
<text x="420.21" y="697.00" font-size="10.3" text-anchor="end" fill="#222" font-weight="bold" transform="rotate(-90 420.21 697.00)" textLength="17.5" lengthAdjust="spacingAndGlyphs">CEU</text>
<line x1="387.80" y1="716.50" x2="421.70" y2="716.50" stroke="#222" stroke-width="0.9" />
<rect x="433.15" y="638.60" width="9.10" height="47.70" fill="#e46c0a"/>
<rect x="445.15" y="621.00" width="9.10" height="65.30" fill="url(#hor)"/>
<rect x="456.95" y="624.60" width="9.50" height="62.20" fill="#fff" stroke="#e46c0a" stroke-width="1.8"/>
<line x1="430.00" y1="611.40" x2="466.00" y2="611.40" stroke="#f79646" stroke-width="1.9" />
<text x="444.71" y="693.00" font-size="10.3" text-anchor="end" fill="#222" font-weight="bold" transform="rotate(-90 444.71 693.00)" textLength="18.2" lengthAdjust="spacingAndGlyphs">AFR</text>
<text x="458.01" y="694.20" font-size="10.3" text-anchor="end" fill="#222" font-weight="bold" transform="rotate(-90 458.01 694.20)" textLength="19.3" lengthAdjust="spacingAndGlyphs">ASN</text>
<text x="470.61" y="695.50" font-size="10.3" text-anchor="end" fill="#222" font-weight="bold" transform="rotate(-90 470.61 695.50)" textLength="17.5" lengthAdjust="spacingAndGlyphs">CEU</text>
<line x1="438.90" y1="716.50" x2="473.00" y2="716.50" stroke="#222" stroke-width="0.9" />
<text x="95.60" y="724.50" font-size="12" text-anchor="middle" fill="#222" font-weight="bold" textLength="43.6" lengthAdjust="spacingAndGlyphs">non-syn</text>
<text x="145.80" y="724.50" font-size="12" text-anchor="middle" fill="#222" font-weight="bold" textLength="17.8" lengthAdjust="spacingAndGlyphs">syn</text>
<text x="202.30" y="724.40" font-size="12" text-anchor="middle" fill="#222" font-weight="bold" textLength="43.6" lengthAdjust="spacingAndGlyphs">non-syn</text>
<text x="249.50" y="725.40" font-size="12" text-anchor="middle" fill="#222" font-weight="bold" textLength="17.8" lengthAdjust="spacingAndGlyphs">syn</text>
<text x="119.20" y="748.46" font-size="11" text-anchor="middle" fill="#222" font-weight="bold" textLength="34.4" lengthAdjust="spacingAndGlyphs">0-0.05</text>
<text x="221.50" y="748.46" font-size="11" text-anchor="middle" fill="#222" font-weight="bold" textLength="45.0" lengthAdjust="spacingAndGlyphs">0.05-0.1</text>
<text x="323.70" y="748.46" font-size="11" text-anchor="middle" fill="#222" font-weight="bold" textLength="38.5" lengthAdjust="spacingAndGlyphs">0.1-0.5</text>
<text x="425.90" y="748.46" font-size="11" text-anchor="middle" fill="#222" font-weight="bold" textLength="27.0" lengthAdjust="spacingAndGlyphs">0.5-1</text>
<text x="195.50" y="770.70" font-size="13.5" text-anchor="start" fill="#222" font-weight="bold" textLength="154.2" lengthAdjust="spacingAndGlyphs">Derived Allele Frequency</text>
<path d="M93.80 544.10 V538.50 Q93.80 537.50 94.80 537.50 H140.30 Q141.30 537.50 141.30 538.50 V544.10" fill="none" stroke="#000" stroke-width="1.2"/>
<text x="114.10" y="537.74" font-size="12" text-anchor="middle" fill="#222" textLength="21.0" lengthAdjust="spacingAndGlyphs">***</text>
<path d="M185.50 639.60 V634.50 Q185.50 633.50 186.50 633.50 H231.30 Q232.30 633.50 232.30 634.50 V639.60" fill="none" stroke="#000" stroke-width="1.2"/>
<text x="208.00" y="633.44" font-size="12" text-anchor="middle" fill="#222" textLength="21.0" lengthAdjust="spacingAndGlyphs">***</text>
<path d="M303.00 563.70 V558.60 Q303.00 557.60 304.00 557.60 H348.60 Q349.60 557.60 349.60 558.60 V563.70" fill="none" stroke="#000" stroke-width="1.2"/>
<text x="324.60" y="560.24" font-size="12" text-anchor="middle" fill="#222" textLength="21.0" lengthAdjust="spacingAndGlyphs">***</text>
<path d="M404.50 605.80 V600.70 Q404.50 599.70 405.50 599.70 H450.50 Q451.50 599.70 451.50 600.70 V605.80" fill="none" stroke="#000" stroke-width="1.2"/>
<text x="427.30" y="601.84" font-size="12" text-anchor="middle" fill="#222" textLength="21.0" lengthAdjust="spacingAndGlyphs">***</text>
<rect x="569.30" y="672.60" width="16.00" height="53.50" fill="#fff" stroke="#4f81bd" stroke-width="1.6"/>
<rect x="585.70" y="694.10" width="15.40" height="30.50" fill="#4f81bd"/>
<rect x="625.70" y="578.90" width="16.30" height="147.20" fill="#fff" stroke="#c0504d" stroke-width="1.6"/>
<rect x="642.40" y="695.90" width="16.10" height="28.70" fill="#c0504d"/>
<rect x="682.80" y="688.40" width="15.30" height="37.70" fill="#fff" stroke="#00b050" stroke-width="1.6"/>
<rect x="698.50" y="685.00" width="16.40" height="39.60" fill="#00b050"/>
<rect x="739.60" y="677.20" width="15.90" height="48.90" fill="#fff" stroke="#8064a2" stroke-width="1.6"/>
<rect x="755.90" y="694.10" width="15.80" height="30.50" fill="#8064a2"/>
<rect x="560.00" y="725.10" width="220.00" height="2.50" fill="#fff"/>
<line x1="556.40" y1="555.80" x2="556.40" y2="724.60" stroke="#a2a2a2" stroke-width="1.1" />
<line x1="556.40" y1="724.60" x2="783.30" y2="724.60" stroke="#a2a2a2" stroke-width="1.1" />
<line x1="554.00" y1="724.60" x2="556.40" y2="724.60" stroke="#a2a2a2" stroke-width="1.0" />
<text x="546.90" y="728.13" font-size="9.8" text-anchor="end" fill="#0a0a0a" textLength="4.9" lengthAdjust="spacingAndGlyphs">0</text>
<line x1="554.00" y1="705.83" x2="556.40" y2="705.83" stroke="#a2a2a2" stroke-width="1.0" />
<text x="546.90" y="709.35" font-size="9.8" text-anchor="end" fill="#0a0a0a" textLength="13.3" lengthAdjust="spacingAndGlyphs">0.5</text>
<line x1="554.00" y1="687.05" x2="556.40" y2="687.05" stroke="#a2a2a2" stroke-width="1.0" />
<text x="546.90" y="690.58" font-size="9.8" text-anchor="end" fill="#0a0a0a" textLength="4.9" lengthAdjust="spacingAndGlyphs">1</text>
<line x1="554.00" y1="668.27" x2="556.40" y2="668.27" stroke="#a2a2a2" stroke-width="1.0" />
<text x="546.90" y="671.80" font-size="9.8" text-anchor="end" fill="#0a0a0a" textLength="13.3" lengthAdjust="spacingAndGlyphs">1.5</text>
<line x1="554.00" y1="649.50" x2="556.40" y2="649.50" stroke="#a2a2a2" stroke-width="1.0" />
<text x="546.90" y="653.03" font-size="9.8" text-anchor="end" fill="#0a0a0a" textLength="4.9" lengthAdjust="spacingAndGlyphs">2</text>
<line x1="554.00" y1="630.73" x2="556.40" y2="630.73" stroke="#a2a2a2" stroke-width="1.0" />
<text x="546.90" y="634.25" font-size="9.8" text-anchor="end" fill="#0a0a0a" textLength="13.3" lengthAdjust="spacingAndGlyphs">2.5</text>
<line x1="554.00" y1="611.95" x2="556.40" y2="611.95" stroke="#a2a2a2" stroke-width="1.0" />
<text x="546.90" y="615.48" font-size="9.8" text-anchor="end" fill="#0a0a0a" textLength="4.9" lengthAdjust="spacingAndGlyphs">3</text>
<line x1="554.00" y1="593.18" x2="556.40" y2="593.18" stroke="#a2a2a2" stroke-width="1.0" />
<text x="546.90" y="596.70" font-size="9.8" text-anchor="end" fill="#0a0a0a" textLength="13.3" lengthAdjust="spacingAndGlyphs">3.5</text>
<line x1="554.00" y1="574.40" x2="556.40" y2="574.40" stroke="#a2a2a2" stroke-width="1.0" />
<text x="546.90" y="577.93" font-size="9.8" text-anchor="end" fill="#0a0a0a" textLength="4.9" lengthAdjust="spacingAndGlyphs">4</text>
<line x1="554.00" y1="555.62" x2="556.40" y2="555.62" stroke="#a2a2a2" stroke-width="1.0" />
<text x="546.90" y="559.15" font-size="9.8" text-anchor="end" fill="#0a0a0a" textLength="13.3" lengthAdjust="spacingAndGlyphs">4.5</text>
<line x1="556.20" y1="724.60" x2="556.20" y2="727.40" stroke="#a2a2a2" stroke-width="1.0" />
<line x1="613.10" y1="724.60" x2="613.10" y2="727.40" stroke="#a2a2a2" stroke-width="1.0" />
<line x1="670.20" y1="724.60" x2="670.20" y2="727.40" stroke="#a2a2a2" stroke-width="1.0" />
<line x1="727.00" y1="724.60" x2="727.00" y2="727.40" stroke="#a2a2a2" stroke-width="1.0" />
<line x1="783.30" y1="724.60" x2="783.30" y2="727.40" stroke="#a2a2a2" stroke-width="1.0" />
<text x="526.69" y="641.00" font-size="8.3" text-anchor="middle" fill="#111" font-weight="bold" transform="rotate(-90 526.69 641.00)" textLength="74.0" lengthAdjust="spacingAndGlyphs">Fold Enrichment</text>
<line x1="556.40" y1="686.50" x2="775.50" y2="686.50" stroke="#111" stroke-width="0.9" />
<text x="576.60" y="673.91" font-size="9.5" text-anchor="middle" fill="#222" font-weight="bold" textLength="10.0" lengthAdjust="spacingAndGlyphs">***</text>
<text x="593.40" y="696.01" font-size="9.5" text-anchor="middle" fill="#222" font-weight="bold" textLength="10.0" lengthAdjust="spacingAndGlyphs">***</text>
<text x="633.60" y="579.62" font-size="9.5" text-anchor="middle" fill="#222" font-weight="bold" textLength="10.0" lengthAdjust="spacingAndGlyphs">***</text>
<text x="650.10" y="698.81" font-size="9.5" text-anchor="middle" fill="#222" font-weight="bold" textLength="10.0" lengthAdjust="spacingAndGlyphs">***</text>
<text x="706.20" y="687.62" font-size="9.5" text-anchor="middle" fill="#222" font-weight="bold" textLength="10.0" lengthAdjust="spacingAndGlyphs">***</text>
<text x="746.50" y="679.21" font-size="9.5" text-anchor="middle" fill="#222" font-weight="bold" textLength="10.0" lengthAdjust="spacingAndGlyphs">***</text>
<text x="763.30" y="696.01" font-size="9.5" text-anchor="middle" fill="#222" font-weight="bold" textLength="10.0" lengthAdjust="spacingAndGlyphs">***</text>
<text x="690.60" y="685.33" font-size="10.5" text-anchor="middle" fill="#111" textLength="9.8" lengthAdjust="spacingAndGlyphs">ns</text>
<text x="580.90" y="750.80" font-size="9.6" text-anchor="start" fill="#111" transform="rotate(-90 580.90 750.80)" textLength="20.8" lengthAdjust="spacingAndGlyphs">F<tspan font-size="5.8" dy="1.5" font-style="italic">ST</tspan><tspan dy="-1.5">=0</tspan></text>
<text x="597.86" y="734.40" font-size="9.6" text-anchor="end" fill="#111" transform="rotate(-90 597.86 734.40)" textLength="15.4" lengthAdjust="spacingAndGlyphs">RPS</text>
<line x1="570.30" y1="757.50" x2="601.60" y2="757.50" stroke="#111" stroke-width="1.0" />
<text x="586.00" y="773.30" font-size="9.4" text-anchor="middle" fill="#111" textLength="26.7" lengthAdjust="spacingAndGlyphs">5'UTR</text>
<text x="637.60" y="750.80" font-size="9.6" text-anchor="start" fill="#111" transform="rotate(-90 637.60 750.80)" textLength="20.8" lengthAdjust="spacingAndGlyphs">F<tspan font-size="5.8" dy="1.5" font-style="italic">ST</tspan><tspan dy="-1.5">=0</tspan></text>
<text x="654.66" y="734.40" font-size="9.6" text-anchor="end" fill="#111" transform="rotate(-90 654.66 734.40)" textLength="15.4" lengthAdjust="spacingAndGlyphs">RPS</text>
<line x1="627.60" y1="757.50" x2="659.00" y2="757.50" stroke="#111" stroke-width="1.0" />
<text x="642.50" y="773.30" font-size="9.4" text-anchor="middle" fill="#111" textLength="29.2" lengthAdjust="spacingAndGlyphs">coding</text>
<text x="694.40" y="750.80" font-size="9.6" text-anchor="start" fill="#111" transform="rotate(-90 694.40 750.80)" textLength="20.8" lengthAdjust="spacingAndGlyphs">F<tspan font-size="5.8" dy="1.5" font-style="italic">ST</tspan><tspan dy="-1.5">=0</tspan></text>
<text x="711.36" y="734.40" font-size="9.6" text-anchor="end" fill="#111" transform="rotate(-90 711.36 734.40)" textLength="15.4" lengthAdjust="spacingAndGlyphs">RPS</text>
<line x1="684.40" y1="757.50" x2="715.40" y2="757.50" stroke="#111" stroke-width="1.0" />
<text x="699.40" y="773.30" font-size="9.4" text-anchor="middle" fill="#111" textLength="26.0" lengthAdjust="spacingAndGlyphs">intron</text>
<text x="751.20" y="750.80" font-size="9.6" text-anchor="start" fill="#111" transform="rotate(-90 751.20 750.80)" textLength="20.8" lengthAdjust="spacingAndGlyphs">F<tspan font-size="5.8" dy="1.5" font-style="italic">ST</tspan><tspan dy="-1.5">=0</tspan></text>
<text x="768.16" y="734.40" font-size="9.6" text-anchor="end" fill="#111" transform="rotate(-90 768.16 734.40)" textLength="15.4" lengthAdjust="spacingAndGlyphs">RPS</text>
<line x1="741.50" y1="757.50" x2="772.30" y2="757.50" stroke="#111" stroke-width="1.0" />
<text x="755.60" y="773.30" font-size="9.4" text-anchor="middle" fill="#111" textLength="26.7" lengthAdjust="spacingAndGlyphs">3'UTR</text>
</svg>
</body></html>
